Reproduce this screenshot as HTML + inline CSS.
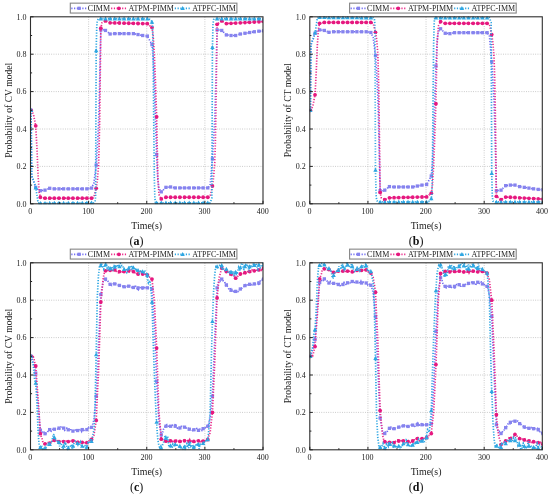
<!DOCTYPE html>
<html><head><meta charset="utf-8"><title>Model probabilities</title>
<style>
html,body{margin:0;padding:0;background:#fff;}
svg{display:block;}
text{font-family:"Liberation Serif","Times New Roman",serif;fill:#222;}
.tl{font-size:8px;}
.al{font-size:9.6px;}
.al2{font-size:9.85px;}
.lg{font-size:8px;}
.cap{font-size:12px;fill:#111;}
.gr{stroke:#b8b8b8;stroke-width:0.8;stroke-dasharray:0.9 1.4;}
.tk{stroke:#222;stroke-width:1;}
.dl{stroke-width:1.7;stroke-dasharray:1.2 1.55;}
</style></head><body>
<svg width="550" height="496" viewBox="0 0 550 496">
<rect width="550" height="496" fill="#fff"/>
<g>
<line x1="88.62" y1="16.8" x2="88.62" y2="203.8" class="gr"/>
<line x1="146.75" y1="16.8" x2="146.75" y2="203.8" class="gr"/>
<line x1="204.88" y1="16.8" x2="204.88" y2="203.8" class="gr"/>
<line x1="30.5" y1="166.40" x2="263.0" y2="166.40" class="gr"/>
<line x1="30.5" y1="129.00" x2="263.0" y2="129.00" class="gr"/>
<line x1="30.5" y1="91.60" x2="263.0" y2="91.60" class="gr"/>
<line x1="30.5" y1="54.20" x2="263.0" y2="54.20" class="gr"/>
<clipPath id="cla"><rect x="30.5" y="16.3" width="232.5" height="188.0"/></clipPath>
<g clip-path="url(#cla)">
<polyline points="31.08,110.30 31.66,175.38 32.24,177.25 32.83,178.80 33.41,180.36 33.99,181.92 34.57,183.73 35.15,185.54 35.73,187.34 36.31,187.95 36.89,188.56 37.48,189.17 38.06,189.78 38.64,190.01 39.22,190.24 39.80,190.48 40.38,190.71 40.96,190.64 41.54,190.57 42.12,190.50 42.71,190.43 43.29,190.36 43.87,190.29 44.45,190.22 45.03,190.15 45.61,189.92 46.19,189.68 46.78,189.45 47.36,189.21 47.94,188.98 48.52,188.75 49.10,188.51 49.68,188.28 50.26,188.35 50.84,188.42 51.42,188.49 52.01,188.56 52.59,188.63 53.17,188.70 53.75,188.77 54.33,188.84 54.91,188.84 55.49,188.84 56.08,188.84 56.66,188.84 57.24,188.84 57.82,188.84 58.40,188.84 58.98,188.84 59.56,188.84 60.14,188.84 60.73,188.84 61.31,188.84 61.89,188.84 62.47,188.84 63.05,188.84 63.63,188.84 64.21,188.84 64.79,188.84 65.38,188.84 65.96,188.84 66.54,188.84 67.12,188.84 67.70,188.84 68.28,188.84 68.86,188.84 69.44,188.84 70.03,188.84 70.61,188.84 71.19,188.84 71.77,188.84 72.35,188.84 72.93,188.84 73.51,188.84 74.09,188.84 74.68,188.84 75.26,188.84 75.84,188.84 76.42,188.84 77.00,188.84 77.58,188.84 78.16,188.84 78.74,188.84 79.33,188.84 79.91,188.84 80.49,188.84 81.07,188.84 81.65,188.84 82.23,188.84 82.81,188.84 83.39,188.84 83.97,188.84 84.56,188.84 85.14,188.84 85.72,188.84 86.30,188.84 86.88,188.84 87.46,188.75 88.04,188.65 88.62,188.56 89.21,188.47 89.79,188.37 90.37,188.28 90.95,188.19 91.53,188.09 92.11,186.88 92.69,185.66 93.28,184.45 93.86,183.23 94.44,178.70 95.02,174.16 95.60,169.63 96.18,165.09 96.76,156.40 97.34,147.70 97.93,136.48 98.51,125.26 99.09,106.56 99.67,82.25 100.25,54.20 100.83,29.89 101.41,29.42 101.99,28.96 102.58,29.20 103.16,29.45 103.74,29.70 104.32,29.95 104.90,30.20 105.48,30.45 106.06,30.90 106.64,31.34 107.23,31.78 107.81,32.23 108.39,32.67 108.97,33.12 109.55,33.56 110.13,34.00 110.71,33.96 111.29,33.91 111.88,33.86 112.46,33.82 113.04,33.77 113.62,33.72 114.20,33.68 114.78,33.63 115.36,33.63 115.94,33.63 116.53,33.63 117.11,33.63 117.69,33.63 118.27,33.63 118.85,33.63 119.43,33.63 120.01,33.63 120.59,33.63 121.18,33.63 121.76,33.63 122.34,33.63 122.92,33.63 123.50,33.63 124.08,33.63 124.66,33.63 125.24,33.63 125.83,33.63 126.41,33.63 126.99,33.63 127.57,33.63 128.15,33.63 128.73,33.63 129.31,33.63 129.89,33.63 130.48,33.63 131.06,33.63 131.64,33.63 132.22,33.63 132.80,33.63 133.38,33.63 133.96,33.75 134.54,33.86 135.12,33.98 135.71,34.10 136.29,34.21 136.87,34.33 137.45,34.45 138.03,34.56 138.61,34.68 139.19,34.80 139.78,34.92 140.36,35.03 140.94,35.15 141.52,35.27 142.10,35.38 142.68,35.50 143.26,35.57 143.84,35.64 144.43,35.71 145.01,35.78 145.59,35.85 146.17,35.92 146.75,35.99 147.33,36.06 147.91,37.14 148.49,38.21 149.07,39.29 149.66,40.36 150.24,41.44 150.82,42.51 151.40,43.59 151.98,44.66 152.56,51.30 153.14,57.94 153.73,70.09 154.31,82.25 154.89,100.95 155.47,119.65 156.05,137.13 156.63,154.62 157.21,167.05 157.79,179.49 158.38,184.17 158.96,188.84 159.54,189.59 160.12,190.34 160.70,191.08 161.28,191.83 161.86,191.27 162.44,190.71 163.03,190.15 163.61,189.59 164.19,189.03 164.77,188.47 165.35,187.91 165.93,187.34 166.51,187.30 167.09,187.25 167.68,187.20 168.26,187.16 168.84,187.11 169.42,187.06 170.00,187.02 170.58,186.97 171.16,187.09 171.74,187.20 172.33,187.32 172.91,187.44 173.49,187.55 174.07,187.67 174.65,187.79 175.23,187.91 175.81,187.91 176.39,187.91 176.98,187.91 177.56,187.91 178.14,187.91 178.72,187.91 179.30,187.91 179.88,187.91 180.46,187.91 181.04,187.91 181.62,187.91 182.21,187.91 182.79,187.91 183.37,187.91 183.95,187.91 184.53,187.91 185.11,187.91 185.69,187.91 186.28,187.91 186.86,187.91 187.44,187.91 188.02,187.91 188.60,187.91 189.18,187.91 189.76,187.91 190.34,187.91 190.93,187.91 191.51,187.91 192.09,187.91 192.67,187.91 193.25,187.91 193.83,187.91 194.41,187.91 194.99,187.91 195.58,187.91 196.16,187.91 196.74,187.91 197.32,187.91 197.90,187.91 198.48,187.91 199.06,187.91 199.64,187.91 200.23,187.91 200.81,187.91 201.39,187.91 201.97,187.91 202.55,187.91 203.13,187.91 203.71,187.91 204.29,187.91 204.88,187.91 205.46,187.91 206.04,187.91 206.62,187.91 207.20,187.91 207.78,187.91 208.36,187.20 208.94,186.50 209.53,185.80 210.11,185.10 210.69,178.56 211.27,172.01 211.85,165.47 212.43,158.92 213.01,149.10 213.59,139.29 214.18,129.47 214.76,119.65 215.34,100.02 215.92,80.38 216.50,55.13 217.08,29.89 217.66,29.96 218.24,30.03 218.83,30.10 219.41,30.17 219.99,30.24 220.57,30.31 221.15,30.38 221.73,30.45 222.31,31.01 222.89,31.57 223.48,32.13 224.06,32.69 224.64,33.26 225.22,33.82 225.80,34.38 226.38,34.94 226.96,35.01 227.54,35.08 228.13,35.15 228.71,35.22 229.29,35.29 229.87,35.36 230.45,35.43 231.03,35.50 231.61,35.50 232.19,35.50 232.78,35.50 233.36,35.50 233.94,35.50 234.52,35.50 235.10,35.50 235.68,35.50 236.26,35.31 236.84,35.13 237.43,34.94 238.01,34.75 238.59,34.56 239.17,34.38 239.75,34.19 240.33,34.00 240.91,33.91 241.49,33.82 242.08,33.72 242.66,33.63 243.24,33.54 243.82,33.44 244.40,33.35 244.98,33.26 245.56,33.16 246.14,33.07 246.73,32.98 247.31,32.88 247.89,32.79 248.47,32.69 249.05,32.60 249.63,32.51 250.21,32.41 250.79,32.32 251.38,32.23 251.96,32.13 252.54,32.04 253.12,31.95 253.70,31.85 254.28,31.76 254.86,31.69 255.44,31.62 256.02,31.55 256.61,31.48 257.19,31.41 257.77,31.34 258.35,31.27 258.93,31.20 259.51,31.15 260.09,31.11 260.68,31.06 261.26,31.01 261.84,30.97 262.42,30.92 263.00,30.87 263.58,30.83" fill="none" stroke="#6f6cf2" class="dl"/>
<rect x="29.43" y="108.65" width="3.3" height="3.3" fill="#8683ee"/>
<rect x="34.08" y="185.69" width="3.3" height="3.3" fill="#8683ee"/>
<rect x="38.73" y="189.06" width="3.3" height="3.3" fill="#8683ee"/>
<rect x="43.38" y="188.50" width="3.3" height="3.3" fill="#8683ee"/>
<rect x="48.03" y="186.63" width="3.3" height="3.3" fill="#8683ee"/>
<rect x="52.68" y="187.19" width="3.3" height="3.3" fill="#8683ee"/>
<rect x="57.33" y="187.19" width="3.3" height="3.3" fill="#8683ee"/>
<rect x="61.98" y="187.19" width="3.3" height="3.3" fill="#8683ee"/>
<rect x="66.63" y="187.19" width="3.3" height="3.3" fill="#8683ee"/>
<rect x="71.28" y="187.19" width="3.3" height="3.3" fill="#8683ee"/>
<rect x="75.93" y="187.19" width="3.3" height="3.3" fill="#8683ee"/>
<rect x="80.58" y="187.19" width="3.3" height="3.3" fill="#8683ee"/>
<rect x="85.23" y="187.19" width="3.3" height="3.3" fill="#8683ee"/>
<rect x="89.88" y="186.44" width="3.3" height="3.3" fill="#8683ee"/>
<rect x="94.53" y="163.44" width="3.3" height="3.3" fill="#8683ee"/>
<rect x="99.18" y="28.24" width="3.3" height="3.3" fill="#8683ee"/>
<rect x="103.83" y="28.80" width="3.3" height="3.3" fill="#8683ee"/>
<rect x="108.48" y="32.35" width="3.3" height="3.3" fill="#8683ee"/>
<rect x="113.13" y="31.98" width="3.3" height="3.3" fill="#8683ee"/>
<rect x="117.78" y="31.98" width="3.3" height="3.3" fill="#8683ee"/>
<rect x="122.43" y="31.98" width="3.3" height="3.3" fill="#8683ee"/>
<rect x="127.08" y="31.98" width="3.3" height="3.3" fill="#8683ee"/>
<rect x="131.73" y="31.98" width="3.3" height="3.3" fill="#8683ee"/>
<rect x="136.38" y="32.91" width="3.3" height="3.3" fill="#8683ee"/>
<rect x="141.03" y="33.85" width="3.3" height="3.3" fill="#8683ee"/>
<rect x="145.68" y="34.41" width="3.3" height="3.3" fill="#8683ee"/>
<rect x="150.33" y="43.01" width="3.3" height="3.3" fill="#8683ee"/>
<rect x="154.98" y="152.97" width="3.3" height="3.3" fill="#8683ee"/>
<rect x="159.63" y="190.18" width="3.3" height="3.3" fill="#8683ee"/>
<rect x="164.28" y="185.69" width="3.3" height="3.3" fill="#8683ee"/>
<rect x="168.93" y="185.32" width="3.3" height="3.3" fill="#8683ee"/>
<rect x="173.58" y="186.25" width="3.3" height="3.3" fill="#8683ee"/>
<rect x="178.23" y="186.25" width="3.3" height="3.3" fill="#8683ee"/>
<rect x="182.88" y="186.25" width="3.3" height="3.3" fill="#8683ee"/>
<rect x="187.53" y="186.25" width="3.3" height="3.3" fill="#8683ee"/>
<rect x="192.18" y="186.25" width="3.3" height="3.3" fill="#8683ee"/>
<rect x="196.83" y="186.25" width="3.3" height="3.3" fill="#8683ee"/>
<rect x="201.48" y="186.25" width="3.3" height="3.3" fill="#8683ee"/>
<rect x="206.13" y="186.25" width="3.3" height="3.3" fill="#8683ee"/>
<rect x="210.78" y="157.27" width="3.3" height="3.3" fill="#8683ee"/>
<rect x="215.43" y="28.24" width="3.3" height="3.3" fill="#8683ee"/>
<rect x="220.08" y="28.80" width="3.3" height="3.3" fill="#8683ee"/>
<rect x="224.73" y="33.29" width="3.3" height="3.3" fill="#8683ee"/>
<rect x="229.38" y="33.85" width="3.3" height="3.3" fill="#8683ee"/>
<rect x="234.03" y="33.85" width="3.3" height="3.3" fill="#8683ee"/>
<rect x="238.68" y="32.35" width="3.3" height="3.3" fill="#8683ee"/>
<rect x="243.33" y="31.61" width="3.3" height="3.3" fill="#8683ee"/>
<rect x="247.98" y="30.86" width="3.3" height="3.3" fill="#8683ee"/>
<rect x="252.63" y="30.11" width="3.3" height="3.3" fill="#8683ee"/>
<rect x="257.28" y="29.55" width="3.3" height="3.3" fill="#8683ee"/>
<rect x="261.93" y="29.18" width="3.3" height="3.3" fill="#8683ee"/>
<polyline points="31.08,110.30 31.66,111.24 32.24,112.17 32.83,113.11 33.41,114.04 33.99,116.99 34.57,119.93 35.15,122.88 35.73,125.82 36.31,136.76 36.89,147.70 37.48,161.73 38.06,175.75 38.64,184.17 39.22,192.58 39.80,194.92 40.38,197.26 40.96,197.37 41.54,197.49 42.12,197.61 42.71,197.72 43.29,197.84 43.87,197.96 44.45,198.07 45.03,198.19 45.61,198.19 46.19,198.19 46.78,198.19 47.36,198.19 47.94,198.19 48.52,198.19 49.10,198.19 49.68,198.19 50.26,198.19 50.84,198.19 51.42,198.19 52.01,198.19 52.59,198.19 53.17,198.19 53.75,198.19 54.33,198.19 54.91,198.19 55.49,198.19 56.08,198.19 56.66,198.19 57.24,198.19 57.82,198.19 58.40,198.19 58.98,198.19 59.56,198.19 60.14,198.19 60.73,198.19 61.31,198.19 61.89,198.19 62.47,198.19 63.05,198.19 63.63,198.19 64.21,198.19 64.79,198.19 65.38,198.19 65.96,198.19 66.54,198.19 67.12,198.19 67.70,198.19 68.28,198.19 68.86,198.19 69.44,198.19 70.03,198.19 70.61,198.19 71.19,198.19 71.77,198.19 72.35,198.19 72.93,198.19 73.51,198.19 74.09,198.19 74.68,198.19 75.26,198.19 75.84,198.19 76.42,198.19 77.00,198.19 77.58,198.19 78.16,198.19 78.74,198.19 79.33,198.19 79.91,198.19 80.49,198.19 81.07,198.19 81.65,198.19 82.23,198.19 82.81,198.19 83.39,198.19 83.97,198.19 84.56,198.19 85.14,198.19 85.72,198.19 86.30,198.19 86.88,198.19 87.46,198.19 88.04,198.19 88.62,198.19 89.21,198.19 89.79,198.19 90.37,198.19 90.95,198.19 91.53,198.19 92.11,197.96 92.69,197.72 93.28,197.49 93.86,197.26 94.44,195.01 95.02,192.77 95.60,190.52 96.18,188.28 96.76,184.82 97.34,181.36 97.93,173.88 98.51,166.40 99.09,147.70 99.67,119.65 100.25,72.90 100.83,28.21 101.41,25.50 101.99,22.78 102.58,22.47 103.16,22.16 103.74,21.85 104.32,21.54 104.90,21.23 105.48,20.91 106.06,21.15 106.64,21.38 107.23,21.62 107.81,21.85 108.39,22.08 108.97,22.32 109.55,22.55 110.13,22.78 110.71,22.80 111.29,22.81 111.88,22.83 112.46,22.84 113.04,22.86 113.62,22.87 114.20,22.89 114.78,22.90 115.36,22.92 115.94,22.93 116.53,22.94 117.11,22.96 117.69,22.97 118.27,22.99 118.85,23.00 119.43,23.02 120.01,23.03 120.59,23.05 121.18,23.06 121.76,23.08 122.34,23.09 122.92,23.11 123.50,23.12 124.08,23.13 124.66,23.15 125.24,23.16 125.83,23.18 126.41,23.19 126.99,23.21 127.57,23.22 128.15,23.24 128.73,23.25 129.31,23.27 129.89,23.28 130.48,23.30 131.06,23.31 131.64,23.32 132.22,23.34 132.80,23.35 133.38,23.37 133.96,23.38 134.54,23.40 135.12,23.41 135.71,23.43 136.29,23.44 136.87,23.46 137.45,23.47 138.03,23.49 138.61,23.50 139.19,23.51 139.78,23.53 140.36,23.54 140.94,23.56 141.52,23.57 142.10,23.59 142.68,23.60 143.26,23.62 143.84,23.63 144.43,23.65 145.01,23.66 145.59,23.68 146.17,23.69 146.75,23.70 147.33,23.72 147.91,24.19 148.49,24.65 149.07,25.12 149.66,25.59 150.24,26.06 150.82,26.52 151.40,26.99 151.98,27.46 152.56,31.20 153.14,35.50 153.73,44.85 154.31,54.20 154.89,68.22 155.47,82.25 156.05,99.55 156.63,116.85 157.21,147.70 157.79,175.75 158.38,185.10 158.96,194.45 159.54,195.57 160.12,196.69 160.70,197.82 161.28,198.94 161.86,198.73 162.44,198.52 163.03,198.31 163.61,198.10 164.19,197.89 164.77,197.68 165.35,197.47 165.93,197.26 166.51,197.26 167.09,197.26 167.68,197.26 168.26,197.26 168.84,197.26 169.42,197.26 170.00,197.26 170.58,197.26 171.16,197.26 171.74,197.26 172.33,197.26 172.91,197.26 173.49,197.26 174.07,197.26 174.65,197.26 175.23,197.26 175.81,197.26 176.39,197.26 176.98,197.26 177.56,197.26 178.14,197.26 178.72,197.26 179.30,197.26 179.88,197.26 180.46,197.26 181.04,197.26 181.62,197.26 182.21,197.26 182.79,197.26 183.37,197.26 183.95,197.26 184.53,197.26 185.11,197.26 185.69,197.26 186.28,197.26 186.86,197.26 187.44,197.26 188.02,197.26 188.60,197.26 189.18,197.26 189.76,197.26 190.34,197.26 190.93,197.26 191.51,197.26 192.09,197.26 192.67,197.26 193.25,197.26 193.83,197.26 194.41,197.26 194.99,197.26 195.58,197.26 196.16,197.26 196.74,197.26 197.32,197.26 197.90,197.26 198.48,197.26 199.06,197.26 199.64,197.26 200.23,197.26 200.81,197.26 201.39,197.26 201.97,197.26 202.55,197.26 203.13,197.26 203.71,197.26 204.29,197.26 204.88,197.26 205.46,197.26 206.04,197.26 206.62,197.26 207.20,197.26 207.78,197.26 208.36,197.02 208.94,196.79 209.53,196.55 210.11,196.32 210.69,193.75 211.27,191.18 211.85,188.61 212.43,186.04 213.01,181.83 213.59,177.62 214.18,170.14 214.76,162.66 215.34,143.96 215.92,115.91 216.50,69.16 217.08,24.28 217.66,23.86 218.24,23.44 218.83,23.02 219.41,22.60 219.99,22.18 220.57,21.76 221.15,21.33 221.73,20.91 222.31,21.24 222.89,21.57 223.48,21.90 224.06,22.22 224.64,22.55 225.22,22.88 225.80,23.20 226.38,23.53 226.96,23.51 227.54,23.49 228.13,23.46 228.71,23.44 229.29,23.42 229.87,23.39 230.45,23.37 231.03,23.35 231.61,23.31 232.19,23.28 232.78,23.24 233.36,23.21 233.94,23.18 234.52,23.14 235.10,23.11 235.68,23.08 236.26,23.04 236.84,23.01 237.43,22.98 238.01,22.94 238.59,22.91 239.17,22.88 239.75,22.84 240.33,22.81 240.91,22.78 241.49,22.74 242.08,22.71 242.66,22.68 243.24,22.64 243.82,22.61 244.40,22.58 244.98,22.54 245.56,22.51 246.14,22.48 246.73,22.44 247.31,22.41 247.89,22.38 248.47,22.34 249.05,22.31 249.63,22.28 250.21,22.24 250.79,22.21 251.38,22.18 251.96,22.14 252.54,22.11 253.12,22.08 253.70,22.04 254.28,22.01 254.86,21.98 255.44,21.94 256.02,21.91 256.61,21.88 257.19,21.84 257.77,21.81 258.35,21.78 258.93,21.74 259.51,21.71 260.09,21.68 260.68,21.64 261.26,21.61 261.84,21.58 262.42,21.54 263.00,21.51 263.58,21.48" fill="none" stroke="#ea2a8a" class="dl"/>
<circle cx="31.08" cy="110.30" r="1.9" fill="#e6187f"/>
<circle cx="35.73" cy="125.82" r="1.9" fill="#e6187f"/>
<circle cx="40.38" cy="197.26" r="1.9" fill="#e6187f"/>
<circle cx="45.03" cy="198.19" r="1.9" fill="#e6187f"/>
<circle cx="49.68" cy="198.19" r="1.9" fill="#e6187f"/>
<circle cx="54.33" cy="198.19" r="1.9" fill="#e6187f"/>
<circle cx="58.98" cy="198.19" r="1.9" fill="#e6187f"/>
<circle cx="63.63" cy="198.19" r="1.9" fill="#e6187f"/>
<circle cx="68.28" cy="198.19" r="1.9" fill="#e6187f"/>
<circle cx="72.93" cy="198.19" r="1.9" fill="#e6187f"/>
<circle cx="77.58" cy="198.19" r="1.9" fill="#e6187f"/>
<circle cx="82.23" cy="198.19" r="1.9" fill="#e6187f"/>
<circle cx="86.88" cy="198.19" r="1.9" fill="#e6187f"/>
<circle cx="91.53" cy="198.19" r="1.9" fill="#e6187f"/>
<circle cx="96.18" cy="188.28" r="1.9" fill="#e6187f"/>
<circle cx="100.83" cy="28.21" r="1.9" fill="#e6187f"/>
<circle cx="105.48" cy="20.91" r="1.9" fill="#e6187f"/>
<circle cx="110.13" cy="22.78" r="1.9" fill="#e6187f"/>
<circle cx="114.78" cy="22.90" r="1.9" fill="#e6187f"/>
<circle cx="119.43" cy="23.02" r="1.9" fill="#e6187f"/>
<circle cx="124.08" cy="23.13" r="1.9" fill="#e6187f"/>
<circle cx="128.73" cy="23.25" r="1.9" fill="#e6187f"/>
<circle cx="133.38" cy="23.37" r="1.9" fill="#e6187f"/>
<circle cx="138.03" cy="23.49" r="1.9" fill="#e6187f"/>
<circle cx="142.68" cy="23.60" r="1.9" fill="#e6187f"/>
<circle cx="147.33" cy="23.72" r="1.9" fill="#e6187f"/>
<circle cx="151.98" cy="27.46" r="1.9" fill="#e6187f"/>
<circle cx="156.63" cy="116.85" r="1.9" fill="#e6187f"/>
<circle cx="161.28" cy="198.94" r="1.9" fill="#e6187f"/>
<circle cx="165.93" cy="197.26" r="1.9" fill="#e6187f"/>
<circle cx="170.58" cy="197.26" r="1.9" fill="#e6187f"/>
<circle cx="175.23" cy="197.26" r="1.9" fill="#e6187f"/>
<circle cx="179.88" cy="197.26" r="1.9" fill="#e6187f"/>
<circle cx="184.53" cy="197.26" r="1.9" fill="#e6187f"/>
<circle cx="189.18" cy="197.26" r="1.9" fill="#e6187f"/>
<circle cx="193.83" cy="197.26" r="1.9" fill="#e6187f"/>
<circle cx="198.48" cy="197.26" r="1.9" fill="#e6187f"/>
<circle cx="203.13" cy="197.26" r="1.9" fill="#e6187f"/>
<circle cx="207.78" cy="197.26" r="1.9" fill="#e6187f"/>
<circle cx="212.43" cy="186.04" r="1.9" fill="#e6187f"/>
<circle cx="217.08" cy="24.28" r="1.9" fill="#e6187f"/>
<circle cx="221.73" cy="20.91" r="1.9" fill="#e6187f"/>
<circle cx="226.38" cy="23.53" r="1.9" fill="#e6187f"/>
<circle cx="231.03" cy="23.35" r="1.9" fill="#e6187f"/>
<circle cx="235.68" cy="23.08" r="1.9" fill="#e6187f"/>
<circle cx="240.33" cy="22.81" r="1.9" fill="#e6187f"/>
<circle cx="244.98" cy="22.54" r="1.9" fill="#e6187f"/>
<circle cx="249.63" cy="22.28" r="1.9" fill="#e6187f"/>
<circle cx="254.28" cy="22.01" r="1.9" fill="#e6187f"/>
<circle cx="258.93" cy="21.74" r="1.9" fill="#e6187f"/>
<circle cx="263.58" cy="21.48" r="1.9" fill="#e6187f"/>
<polyline points="31.08,110.30 31.66,175.75 32.24,177.62 32.83,179.18 33.41,180.74 33.99,182.30 34.57,184.10 35.15,185.91 35.73,187.72 36.31,191.08 36.89,194.45 37.48,198.66 38.06,202.87 38.64,202.96 39.22,203.05 39.80,203.15 40.38,203.24 40.96,203.23 41.54,203.23 42.12,203.23 42.71,203.22 43.29,203.22 43.87,203.21 44.45,203.21 45.03,203.21 45.61,203.20 46.19,203.20 46.78,203.19 47.36,203.19 47.94,203.19 48.52,203.18 49.10,203.18 49.68,203.17 50.26,203.17 50.84,203.17 51.42,203.16 52.01,203.16 52.59,203.15 53.17,203.15 53.75,203.15 54.33,203.14 54.91,203.14 55.49,203.13 56.08,203.13 56.66,203.13 57.24,203.12 57.82,203.12 58.40,203.11 58.98,203.11 59.56,203.10 60.14,203.10 60.73,203.10 61.31,203.09 61.89,203.09 62.47,203.08 63.05,203.08 63.63,203.08 64.21,203.07 64.79,203.07 65.38,203.06 65.96,203.06 66.54,203.06 67.12,203.05 67.70,203.05 68.28,203.04 68.86,203.04 69.44,203.04 70.03,203.03 70.61,203.03 71.19,203.02 71.77,203.02 72.35,203.02 72.93,203.01 73.51,203.01 74.09,203.00 74.68,203.00 75.26,203.00 75.84,202.99 76.42,202.99 77.00,202.98 77.58,202.98 78.16,202.97 78.74,202.97 79.33,202.97 79.91,202.96 80.49,202.96 81.07,202.95 81.65,202.95 82.23,202.95 82.81,202.94 83.39,202.94 83.97,202.93 84.56,202.93 85.14,202.93 85.72,202.92 86.30,202.92 86.88,202.91 87.46,202.91 88.04,202.91 88.62,202.90 89.21,202.90 89.79,202.89 90.37,202.89 90.95,202.89 91.53,202.88 92.11,202.88 92.69,202.87 93.28,202.87 93.86,202.87 94.44,202.40 95.02,201.93 95.60,196.32 96.18,50.46 96.76,26.15 97.34,20.54 97.93,19.61 98.51,18.67 99.09,18.67 99.67,18.67 100.25,18.67 100.83,18.67 101.41,18.67 101.99,18.67 102.58,18.67 103.16,18.67 103.74,18.67 104.32,18.67 104.90,18.67 105.48,18.67 106.06,18.67 106.64,18.67 107.23,18.67 107.81,18.67 108.39,18.67 108.97,18.67 109.55,18.67 110.13,18.67 110.71,18.67 111.29,18.67 111.88,18.67 112.46,18.67 113.04,18.67 113.62,18.67 114.20,18.67 114.78,18.67 115.36,18.67 115.94,18.67 116.53,18.67 117.11,18.67 117.69,18.67 118.27,18.67 118.85,18.67 119.43,18.67 120.01,18.67 120.59,18.67 121.18,18.67 121.76,18.67 122.34,18.67 122.92,18.67 123.50,18.67 124.08,18.67 124.66,18.67 125.24,18.67 125.83,18.67 126.41,18.67 126.99,18.67 127.57,18.67 128.15,18.67 128.73,18.67 129.31,18.67 129.89,18.67 130.48,18.67 131.06,18.67 131.64,18.67 132.22,18.67 132.80,18.67 133.38,18.67 133.96,18.67 134.54,18.67 135.12,18.67 135.71,18.67 136.29,18.67 136.87,18.67 137.45,18.67 138.03,18.67 138.61,18.67 139.19,18.67 139.78,18.67 140.36,18.67 140.94,18.67 141.52,18.67 142.10,18.67 142.68,18.67 143.26,18.67 143.84,18.67 144.43,18.67 145.01,18.67 145.59,18.67 146.17,18.67 146.75,18.67 147.33,18.67 147.91,18.83 148.49,18.98 149.07,19.14 149.66,19.29 150.24,19.45 150.82,19.61 151.40,20.82 151.98,22.04 152.56,26.15 153.14,54.20 153.73,119.65 154.31,175.75 154.89,198.19 155.47,202.87 156.05,202.87 156.63,202.87 157.21,202.87 157.79,202.87 158.38,202.87 158.96,202.87 159.54,202.87 160.12,202.87 160.70,202.87 161.28,202.87 161.86,202.87 162.44,202.87 163.03,202.87 163.61,202.87 164.19,202.87 164.77,202.87 165.35,202.87 165.93,202.87 166.51,202.87 167.09,202.87 167.68,202.87 168.26,202.87 168.84,202.87 169.42,202.87 170.00,202.87 170.58,202.87 171.16,202.87 171.74,202.87 172.33,202.87 172.91,202.87 173.49,202.87 174.07,202.87 174.65,202.87 175.23,202.87 175.81,202.87 176.39,202.87 176.98,202.87 177.56,202.87 178.14,202.87 178.72,202.87 179.30,202.87 179.88,202.87 180.46,202.87 181.04,202.87 181.62,202.87 182.21,202.87 182.79,202.87 183.37,202.87 183.95,202.87 184.53,202.87 185.11,202.87 185.69,202.87 186.28,202.87 186.86,202.87 187.44,202.87 188.02,202.87 188.60,202.87 189.18,202.87 189.76,202.87 190.34,202.87 190.93,202.87 191.51,202.87 192.09,202.87 192.67,202.87 193.25,202.87 193.83,202.87 194.41,202.87 194.99,202.87 195.58,202.87 196.16,202.87 196.74,202.87 197.32,202.87 197.90,202.87 198.48,202.87 199.06,202.87 199.64,202.87 200.23,202.87 200.81,202.87 201.39,202.87 201.97,202.87 202.55,202.87 203.13,202.87 203.71,202.87 204.29,202.87 204.88,202.87 205.46,202.87 206.04,202.87 206.62,202.87 207.20,202.87 207.78,202.87 208.36,202.87 208.94,202.87 209.53,202.87 210.11,202.87 210.69,201.31 211.27,199.75 211.85,198.19 212.43,47.28 213.01,24.28 213.59,19.61 214.18,19.14 214.76,18.67 215.34,18.67 215.92,18.67 216.50,18.67 217.08,18.67 217.66,18.67 218.24,18.67 218.83,18.67 219.41,18.67 219.99,18.67 220.57,18.67 221.15,18.67 221.73,18.67 222.31,18.67 222.89,18.67 223.48,18.67 224.06,18.67 224.64,18.67 225.22,18.67 225.80,18.67 226.38,18.67 226.96,18.67 227.54,18.67 228.13,18.67 228.71,18.67 229.29,18.67 229.87,18.67 230.45,18.67 231.03,18.67 231.61,18.67 232.19,18.67 232.78,18.67 233.36,18.67 233.94,18.67 234.52,18.67 235.10,18.67 235.68,18.67 236.26,18.67 236.84,18.67 237.43,18.67 238.01,18.67 238.59,18.67 239.17,18.67 239.75,18.67 240.33,18.67 240.91,18.67 241.49,18.67 242.08,18.67 242.66,18.67 243.24,18.67 243.82,18.67 244.40,18.67 244.98,18.67 245.56,18.67 246.14,18.67 246.73,18.67 247.31,18.67 247.89,18.67 248.47,18.67 249.05,18.67 249.63,18.67 250.21,18.67 250.79,18.67 251.38,18.67 251.96,18.67 252.54,18.67 253.12,18.67 253.70,18.67 254.28,18.67 254.86,18.67 255.44,18.67 256.02,18.67 256.61,18.67 257.19,18.67 257.77,18.67 258.35,18.67 258.93,18.67 259.51,18.67 260.09,18.67 260.68,18.67 261.26,18.67 261.84,18.67 262.42,18.67 263.00,18.67 263.58,18.67" fill="none" stroke="#2ea6e2" class="dl"/>
<path d="M31.08 108.00L33.27 112.03L28.90 112.03Z" fill="#2ea6e2"/>
<path d="M35.73 185.42L37.92 189.44L33.55 189.44Z" fill="#2ea6e2"/>
<path d="M40.38 200.94L42.57 204.96L38.20 204.96Z" fill="#2ea6e2"/>
<path d="M45.03 200.91L47.22 204.93L42.85 204.93Z" fill="#2ea6e2"/>
<path d="M49.68 200.87L51.87 204.90L47.50 204.90Z" fill="#2ea6e2"/>
<path d="M54.33 200.84L56.52 204.87L52.15 204.87Z" fill="#2ea6e2"/>
<path d="M58.98 200.81L61.17 204.83L56.80 204.83Z" fill="#2ea6e2"/>
<path d="M63.63 200.78L65.82 204.80L61.45 204.80Z" fill="#2ea6e2"/>
<path d="M68.28 200.74L70.47 204.77L66.10 204.77Z" fill="#2ea6e2"/>
<path d="M72.93 200.71L75.12 204.74L70.75 204.74Z" fill="#2ea6e2"/>
<path d="M77.58 200.68L79.77 204.70L75.40 204.70Z" fill="#2ea6e2"/>
<path d="M82.23 200.65L84.42 204.67L80.05 204.67Z" fill="#2ea6e2"/>
<path d="M86.88 200.61L89.07 204.64L84.70 204.64Z" fill="#2ea6e2"/>
<path d="M91.53 200.58L93.72 204.61L89.35 204.61Z" fill="#2ea6e2"/>
<path d="M96.18 48.16L98.37 52.19L94.00 52.19Z" fill="#2ea6e2"/>
<path d="M100.83 16.37L103.02 20.40L98.65 20.40Z" fill="#2ea6e2"/>
<path d="M105.48 16.37L107.67 20.40L103.30 20.40Z" fill="#2ea6e2"/>
<path d="M110.13 16.37L112.32 20.40L107.95 20.40Z" fill="#2ea6e2"/>
<path d="M114.78 16.37L116.97 20.40L112.60 20.40Z" fill="#2ea6e2"/>
<path d="M119.43 16.37L121.62 20.40L117.25 20.40Z" fill="#2ea6e2"/>
<path d="M124.08 16.37L126.27 20.40L121.90 20.40Z" fill="#2ea6e2"/>
<path d="M128.73 16.37L130.92 20.40L126.55 20.40Z" fill="#2ea6e2"/>
<path d="M133.38 16.37L135.57 20.40L131.20 20.40Z" fill="#2ea6e2"/>
<path d="M138.03 16.37L140.22 20.40L135.85 20.40Z" fill="#2ea6e2"/>
<path d="M142.68 16.37L144.87 20.40L140.50 20.40Z" fill="#2ea6e2"/>
<path d="M147.33 16.37L149.52 20.40L145.15 20.40Z" fill="#2ea6e2"/>
<path d="M151.98 19.74L154.17 23.76L149.80 23.76Z" fill="#2ea6e2"/>
<path d="M156.63 200.56L158.82 204.59L154.45 204.59Z" fill="#2ea6e2"/>
<path d="M161.28 200.56L163.47 204.59L159.10 204.59Z" fill="#2ea6e2"/>
<path d="M165.93 200.56L168.12 204.59L163.75 204.59Z" fill="#2ea6e2"/>
<path d="M170.58 200.56L172.77 204.59L168.40 204.59Z" fill="#2ea6e2"/>
<path d="M175.23 200.56L177.42 204.59L173.05 204.59Z" fill="#2ea6e2"/>
<path d="M179.88 200.56L182.07 204.59L177.70 204.59Z" fill="#2ea6e2"/>
<path d="M184.53 200.56L186.72 204.59L182.35 204.59Z" fill="#2ea6e2"/>
<path d="M189.18 200.56L191.37 204.59L187.00 204.59Z" fill="#2ea6e2"/>
<path d="M193.83 200.56L196.02 204.59L191.65 204.59Z" fill="#2ea6e2"/>
<path d="M198.48 200.56L200.67 204.59L196.30 204.59Z" fill="#2ea6e2"/>
<path d="M203.13 200.56L205.32 204.59L200.95 204.59Z" fill="#2ea6e2"/>
<path d="M207.78 200.56L209.97 204.59L205.60 204.59Z" fill="#2ea6e2"/>
<path d="M212.43 44.98L214.62 49.01L210.25 49.01Z" fill="#2ea6e2"/>
<path d="M217.08 16.37L219.27 20.40L214.90 20.40Z" fill="#2ea6e2"/>
<path d="M221.73 16.37L223.92 20.40L219.55 20.40Z" fill="#2ea6e2"/>
<path d="M226.38 16.37L228.57 20.40L224.20 20.40Z" fill="#2ea6e2"/>
<path d="M231.03 16.37L233.22 20.40L228.85 20.40Z" fill="#2ea6e2"/>
<path d="M235.68 16.37L237.87 20.40L233.50 20.40Z" fill="#2ea6e2"/>
<path d="M240.33 16.37L242.52 20.40L238.15 20.40Z" fill="#2ea6e2"/>
<path d="M244.98 16.37L247.17 20.40L242.80 20.40Z" fill="#2ea6e2"/>
<path d="M249.63 16.37L251.82 20.40L247.45 20.40Z" fill="#2ea6e2"/>
<path d="M254.28 16.37L256.47 20.40L252.10 20.40Z" fill="#2ea6e2"/>
<path d="M258.93 16.37L261.12 20.40L256.75 20.40Z" fill="#2ea6e2"/>
<path d="M263.58 16.37L265.77 20.40L261.40 20.40Z" fill="#2ea6e2"/>
</g>
<rect x="30.5" y="16.8" width="232.5" height="187.0" fill="none" stroke="#2e2e2e" stroke-width="1.1"/>
<line x1="30.50" y1="203.8" x2="30.50" y2="200.8" class="tk"/>
<text x="30.20" y="214.25" class="tl" text-anchor="middle">0</text>
<line x1="59.56" y1="203.8" x2="59.56" y2="202.20000000000002" class="tk"/>
<line x1="88.62" y1="203.8" x2="88.62" y2="200.8" class="tk"/>
<text x="88.33" y="214.25" class="tl" text-anchor="middle">100</text>
<line x1="117.69" y1="203.8" x2="117.69" y2="202.20000000000002" class="tk"/>
<line x1="146.75" y1="203.8" x2="146.75" y2="200.8" class="tk"/>
<text x="146.45" y="214.25" class="tl" text-anchor="middle">200</text>
<line x1="175.81" y1="203.8" x2="175.81" y2="202.20000000000002" class="tk"/>
<line x1="204.88" y1="203.8" x2="204.88" y2="200.8" class="tk"/>
<text x="204.57" y="214.25" class="tl" text-anchor="middle">300</text>
<line x1="233.94" y1="203.8" x2="233.94" y2="202.20000000000002" class="tk"/>
<line x1="263.00" y1="203.8" x2="263.00" y2="200.8" class="tk"/>
<text x="262.70" y="214.25" class="tl" text-anchor="middle">400</text>
<line x1="30.5" y1="203.80" x2="33.5" y2="203.80" class="tk"/>
<text x="26.50" y="206.60" class="tl" text-anchor="end">0.0</text>
<line x1="30.5" y1="185.10" x2="32.1" y2="185.10" class="tk"/>
<line x1="30.5" y1="166.40" x2="33.5" y2="166.40" class="tk"/>
<text x="26.50" y="169.20" class="tl" text-anchor="end">0.2</text>
<line x1="30.5" y1="147.70" x2="32.1" y2="147.70" class="tk"/>
<line x1="30.5" y1="129.00" x2="33.5" y2="129.00" class="tk"/>
<text x="26.50" y="131.80" class="tl" text-anchor="end">0.4</text>
<line x1="30.5" y1="110.30" x2="32.1" y2="110.30" class="tk"/>
<line x1="30.5" y1="91.60" x2="33.5" y2="91.60" class="tk"/>
<text x="26.50" y="94.40" class="tl" text-anchor="end">0.6</text>
<line x1="30.5" y1="72.90" x2="32.1" y2="72.90" class="tk"/>
<line x1="30.5" y1="54.20" x2="33.5" y2="54.20" class="tk"/>
<text x="26.50" y="57.00" class="tl" text-anchor="end">0.8</text>
<line x1="30.5" y1="35.50" x2="32.1" y2="35.50" class="tk"/>
<line x1="30.5" y1="16.80" x2="33.5" y2="16.80" class="tk"/>
<text x="26.50" y="19.60" class="tl" text-anchor="end">1.0</text>
<text x="146.75" y="229.10" class="al2" text-anchor="middle">Time(s)</text>
<text transform="translate(11.80,110.30) rotate(-90)" class="al" text-anchor="middle">Probability of CV model</text>
<text x="136.60" y="245.20" class="cap" text-anchor="middle">(<tspan font-weight="bold">a</tspan>)</text>
<rect x="70.3" y="3.15" width="166.6" height="9.9" fill="#fff" stroke="#858585" stroke-width="1.1"/>
<line x1="71.3" y1="8.3" x2="86.89999999999999" y2="8.3" stroke="#6f6cf2" class="dl"/>
<rect x="77.45" y="6.65" width="3.3" height="3.3" fill="#8683ee"/>
<text x="87.8" y="10.9" class="lg">CIMM</text>
<line x1="111.1" y1="8.3" x2="126.69999999999999" y2="8.3" stroke="#ea2a8a" class="dl"/>
<circle cx="118.90" cy="8.30" r="1.9" fill="#e6187f"/>
<text x="128.6" y="10.9" class="lg">ATPM-PIMM</text>
<line x1="174.8" y1="8.3" x2="190.4" y2="8.3" stroke="#2ea6e2" class="dl"/>
<path d="M182.60 6.00L184.79 10.03L180.42 10.03Z" fill="#2ea6e2"/>
<text x="192.3" y="10.9" class="lg">ATPFC-IMM</text>
</g>
<g>
<line x1="367.93" y1="16.8" x2="367.93" y2="203.8" class="gr"/>
<line x1="426.05" y1="16.8" x2="426.05" y2="203.8" class="gr"/>
<line x1="484.18" y1="16.8" x2="484.18" y2="203.8" class="gr"/>
<line x1="309.8" y1="166.40" x2="542.3" y2="166.40" class="gr"/>
<line x1="309.8" y1="129.00" x2="542.3" y2="129.00" class="gr"/>
<line x1="309.8" y1="91.60" x2="542.3" y2="91.60" class="gr"/>
<line x1="309.8" y1="54.20" x2="542.3" y2="54.20" class="gr"/>
<clipPath id="clb"><rect x="309.8" y="16.3" width="232.5" height="188.0"/></clipPath>
<g clip-path="url(#clb)">
<polyline points="310.38,110.30 310.96,45.22 311.54,43.35 312.12,41.80 312.71,40.24 313.29,38.68 313.87,36.87 314.45,35.06 315.03,33.26 315.61,32.65 316.19,32.04 316.78,31.43 317.36,30.83 317.94,30.59 318.52,30.36 319.10,30.12 319.68,29.89 320.26,29.96 320.84,30.03 321.43,30.10 322.01,30.17 322.59,30.24 323.17,30.31 323.75,30.38 324.33,30.45 324.91,30.68 325.49,30.92 326.07,31.15 326.66,31.39 327.24,31.62 327.82,31.85 328.40,32.09 328.98,32.32 329.56,32.25 330.14,32.18 330.73,32.11 331.31,32.04 331.89,31.97 332.47,31.90 333.05,31.83 333.63,31.76 334.21,31.76 334.79,31.76 335.38,31.76 335.96,31.76 336.54,31.76 337.12,31.76 337.70,31.76 338.28,31.76 338.86,31.76 339.44,31.76 340.03,31.76 340.61,31.76 341.19,31.76 341.77,31.76 342.35,31.76 342.93,31.76 343.51,31.76 344.09,31.76 344.68,31.76 345.26,31.76 345.84,31.76 346.42,31.76 347.00,31.76 347.58,31.76 348.16,31.76 348.74,31.76 349.33,31.76 349.91,31.76 350.49,31.76 351.07,31.76 351.65,31.76 352.23,31.76 352.81,31.76 353.39,31.76 353.98,31.76 354.56,31.76 355.14,31.76 355.72,31.76 356.30,31.76 356.88,31.76 357.46,31.76 358.04,31.76 358.62,31.76 359.21,31.76 359.79,31.76 360.37,31.76 360.95,31.76 361.53,31.76 362.11,31.76 362.69,31.76 363.28,31.76 363.86,31.76 364.44,31.76 365.02,31.76 365.60,31.76 366.18,31.76 366.76,31.85 367.34,31.95 367.93,32.04 368.51,32.13 369.09,32.23 369.67,32.32 370.25,32.41 370.83,32.51 371.41,33.72 371.99,34.94 372.58,36.15 373.16,37.37 373.74,41.90 374.32,46.44 374.90,50.97 375.48,55.51 376.06,64.20 376.64,72.90 377.23,84.12 377.81,95.34 378.39,114.04 378.97,138.35 379.55,166.40 380.13,190.71 380.71,191.18 381.29,191.65 381.88,191.40 382.46,191.15 383.04,190.90 383.62,190.65 384.20,190.40 384.78,190.15 385.36,189.70 385.94,189.26 386.53,188.82 387.11,188.37 387.69,187.93 388.27,187.48 388.85,187.04 389.43,186.60 390.01,186.64 390.59,186.69 391.18,186.74 391.76,186.78 392.34,186.83 392.92,186.88 393.50,186.92 394.08,186.97 394.66,186.97 395.24,186.97 395.83,186.97 396.41,186.97 396.99,186.97 397.57,186.97 398.15,186.97 398.73,186.97 399.31,186.97 399.89,186.97 400.48,186.97 401.06,186.97 401.64,186.97 402.22,186.97 402.80,186.97 403.38,186.97 403.96,186.97 404.54,186.97 405.12,186.97 405.71,186.97 406.29,186.97 406.87,186.97 407.45,186.97 408.03,186.97 408.61,186.97 409.19,186.97 409.78,186.97 410.36,186.97 410.94,186.97 411.52,186.97 412.10,186.97 412.68,186.97 413.26,186.85 413.84,186.74 414.43,186.62 415.01,186.50 415.59,186.39 416.17,186.27 416.75,186.15 417.33,186.04 417.91,185.92 418.49,185.80 419.08,185.68 419.66,185.57 420.24,185.45 420.82,185.33 421.40,185.22 421.98,185.10 422.56,185.03 423.14,184.96 423.73,184.89 424.31,184.82 424.89,184.75 425.47,184.68 426.05,184.61 426.63,184.54 427.21,183.46 427.79,182.39 428.38,181.31 428.96,180.24 429.54,179.16 430.12,178.09 430.70,177.01 431.28,175.94 431.86,169.30 432.44,162.66 433.03,150.51 433.61,138.35 434.19,119.65 434.77,100.95 435.35,83.47 435.93,65.98 436.51,53.55 437.09,41.11 437.68,36.44 438.26,31.76 438.84,31.01 439.42,30.26 440.00,29.52 440.58,28.77 441.16,29.33 441.74,29.89 442.33,30.45 442.91,31.01 443.49,31.57 444.07,32.13 444.65,32.69 445.23,33.26 445.81,33.30 446.39,33.35 446.98,33.40 447.56,33.44 448.14,33.49 448.72,33.54 449.30,33.58 449.88,33.63 450.46,33.51 451.04,33.40 451.62,33.28 452.21,33.16 452.79,33.05 453.37,32.93 453.95,32.81 454.53,32.69 455.11,32.69 455.69,32.69 456.28,32.69 456.86,32.69 457.44,32.69 458.02,32.69 458.60,32.69 459.18,32.69 459.76,32.69 460.34,32.69 460.93,32.69 461.51,32.69 462.09,32.69 462.67,32.69 463.25,32.69 463.83,32.69 464.41,32.69 464.99,32.69 465.58,32.69 466.16,32.69 466.74,32.69 467.32,32.69 467.90,32.69 468.48,32.69 469.06,32.69 469.64,32.69 470.23,32.69 470.81,32.69 471.39,32.69 471.97,32.69 472.55,32.69 473.13,32.69 473.71,32.69 474.29,32.69 474.88,32.69 475.46,32.69 476.04,32.69 476.62,32.69 477.20,32.69 477.78,32.69 478.36,32.69 478.94,32.69 479.53,32.69 480.11,32.69 480.69,32.69 481.27,32.69 481.85,32.69 482.43,32.69 483.01,32.69 483.59,32.69 484.18,32.69 484.76,32.69 485.34,32.69 485.92,32.69 486.50,32.69 487.08,32.69 487.66,33.40 488.24,34.10 488.83,34.80 489.41,35.50 489.99,42.05 490.57,48.59 491.15,55.13 491.73,61.68 492.31,71.50 492.89,81.32 493.48,91.13 494.06,100.95 494.64,120.59 495.22,140.22 495.80,165.47 496.38,190.71 496.96,190.64 497.54,190.57 498.12,190.50 498.71,190.43 499.29,190.36 499.87,190.29 500.45,190.22 501.03,190.15 501.61,189.59 502.19,189.03 502.78,188.47 503.36,187.91 503.94,187.34 504.52,186.78 505.10,186.22 505.68,185.66 506.26,185.59 506.84,185.52 507.43,185.45 508.01,185.38 508.59,185.31 509.17,185.24 509.75,185.17 510.33,185.10 510.91,185.10 511.49,185.10 512.08,185.10 512.66,185.10 513.24,185.10 513.82,185.10 514.40,185.10 514.98,185.10 515.56,185.29 516.14,185.47 516.73,185.66 517.31,185.85 517.89,186.04 518.47,186.22 519.05,186.41 519.63,186.60 520.21,186.69 520.79,186.78 521.38,186.88 521.96,186.97 522.54,187.06 523.12,187.16 523.70,187.25 524.28,187.34 524.86,187.44 525.44,187.53 526.03,187.62 526.61,187.72 527.19,187.81 527.77,187.91 528.35,188.00 528.93,188.09 529.51,188.19 530.09,188.28 530.68,188.37 531.26,188.47 531.84,188.56 532.42,188.65 533.00,188.75 533.58,188.84 534.16,188.91 534.74,188.98 535.33,189.05 535.91,189.12 536.49,189.19 537.07,189.26 537.65,189.33 538.23,189.40 538.81,189.45 539.39,189.49 539.98,189.54 540.56,189.59 541.14,189.63 541.72,189.68 542.30,189.73 542.88,189.78" fill="none" stroke="#6f6cf2" class="dl"/>
<rect x="308.73" y="108.65" width="3.3" height="3.3" fill="#8683ee"/>
<rect x="313.38" y="31.61" width="3.3" height="3.3" fill="#8683ee"/>
<rect x="318.03" y="28.24" width="3.3" height="3.3" fill="#8683ee"/>
<rect x="322.68" y="28.80" width="3.3" height="3.3" fill="#8683ee"/>
<rect x="327.33" y="30.67" width="3.3" height="3.3" fill="#8683ee"/>
<rect x="331.98" y="30.11" width="3.3" height="3.3" fill="#8683ee"/>
<rect x="336.63" y="30.11" width="3.3" height="3.3" fill="#8683ee"/>
<rect x="341.28" y="30.11" width="3.3" height="3.3" fill="#8683ee"/>
<rect x="345.93" y="30.11" width="3.3" height="3.3" fill="#8683ee"/>
<rect x="350.58" y="30.11" width="3.3" height="3.3" fill="#8683ee"/>
<rect x="355.23" y="30.11" width="3.3" height="3.3" fill="#8683ee"/>
<rect x="359.88" y="30.11" width="3.3" height="3.3" fill="#8683ee"/>
<rect x="364.53" y="30.11" width="3.3" height="3.3" fill="#8683ee"/>
<rect x="369.18" y="30.86" width="3.3" height="3.3" fill="#8683ee"/>
<rect x="373.83" y="53.86" width="3.3" height="3.3" fill="#8683ee"/>
<rect x="378.48" y="189.06" width="3.3" height="3.3" fill="#8683ee"/>
<rect x="383.13" y="188.50" width="3.3" height="3.3" fill="#8683ee"/>
<rect x="387.78" y="184.95" width="3.3" height="3.3" fill="#8683ee"/>
<rect x="392.43" y="185.32" width="3.3" height="3.3" fill="#8683ee"/>
<rect x="397.08" y="185.32" width="3.3" height="3.3" fill="#8683ee"/>
<rect x="401.73" y="185.32" width="3.3" height="3.3" fill="#8683ee"/>
<rect x="406.38" y="185.32" width="3.3" height="3.3" fill="#8683ee"/>
<rect x="411.03" y="185.32" width="3.3" height="3.3" fill="#8683ee"/>
<rect x="415.68" y="184.39" width="3.3" height="3.3" fill="#8683ee"/>
<rect x="420.33" y="183.45" width="3.3" height="3.3" fill="#8683ee"/>
<rect x="424.98" y="182.89" width="3.3" height="3.3" fill="#8683ee"/>
<rect x="429.63" y="174.29" width="3.3" height="3.3" fill="#8683ee"/>
<rect x="434.28" y="64.33" width="3.3" height="3.3" fill="#8683ee"/>
<rect x="438.93" y="27.12" width="3.3" height="3.3" fill="#8683ee"/>
<rect x="443.58" y="31.61" width="3.3" height="3.3" fill="#8683ee"/>
<rect x="448.23" y="31.98" width="3.3" height="3.3" fill="#8683ee"/>
<rect x="452.88" y="31.04" width="3.3" height="3.3" fill="#8683ee"/>
<rect x="457.53" y="31.04" width="3.3" height="3.3" fill="#8683ee"/>
<rect x="462.18" y="31.04" width="3.3" height="3.3" fill="#8683ee"/>
<rect x="466.83" y="31.04" width="3.3" height="3.3" fill="#8683ee"/>
<rect x="471.48" y="31.04" width="3.3" height="3.3" fill="#8683ee"/>
<rect x="476.13" y="31.04" width="3.3" height="3.3" fill="#8683ee"/>
<rect x="480.78" y="31.04" width="3.3" height="3.3" fill="#8683ee"/>
<rect x="485.43" y="31.04" width="3.3" height="3.3" fill="#8683ee"/>
<rect x="490.08" y="60.03" width="3.3" height="3.3" fill="#8683ee"/>
<rect x="494.73" y="189.06" width="3.3" height="3.3" fill="#8683ee"/>
<rect x="499.38" y="188.50" width="3.3" height="3.3" fill="#8683ee"/>
<rect x="504.03" y="184.01" width="3.3" height="3.3" fill="#8683ee"/>
<rect x="508.68" y="183.45" width="3.3" height="3.3" fill="#8683ee"/>
<rect x="513.33" y="183.45" width="3.3" height="3.3" fill="#8683ee"/>
<rect x="517.98" y="184.95" width="3.3" height="3.3" fill="#8683ee"/>
<rect x="522.63" y="185.69" width="3.3" height="3.3" fill="#8683ee"/>
<rect x="527.28" y="186.44" width="3.3" height="3.3" fill="#8683ee"/>
<rect x="531.93" y="187.19" width="3.3" height="3.3" fill="#8683ee"/>
<rect x="536.58" y="187.75" width="3.3" height="3.3" fill="#8683ee"/>
<rect x="541.23" y="188.13" width="3.3" height="3.3" fill="#8683ee"/>
<polyline points="310.38,110.30 310.96,109.37 311.54,108.43 312.12,107.50 312.71,106.56 313.29,103.61 313.87,100.67 314.45,97.72 315.03,94.78 315.61,83.84 316.19,72.90 316.78,58.88 317.36,44.85 317.94,36.44 318.52,28.02 319.10,25.68 319.68,23.35 320.26,23.23 320.84,23.11 321.43,22.99 322.01,22.88 322.59,22.76 323.17,22.64 323.75,22.53 324.33,22.41 324.91,22.41 325.49,22.41 326.07,22.41 326.66,22.41 327.24,22.41 327.82,22.41 328.40,22.41 328.98,22.41 329.56,22.41 330.14,22.41 330.73,22.41 331.31,22.41 331.89,22.41 332.47,22.41 333.05,22.41 333.63,22.41 334.21,22.41 334.79,22.41 335.38,22.41 335.96,22.41 336.54,22.41 337.12,22.41 337.70,22.41 338.28,22.41 338.86,22.41 339.44,22.41 340.03,22.41 340.61,22.41 341.19,22.41 341.77,22.41 342.35,22.41 342.93,22.41 343.51,22.41 344.09,22.41 344.68,22.41 345.26,22.41 345.84,22.41 346.42,22.41 347.00,22.41 347.58,22.41 348.16,22.41 348.74,22.41 349.33,22.41 349.91,22.41 350.49,22.41 351.07,22.41 351.65,22.41 352.23,22.41 352.81,22.41 353.39,22.41 353.98,22.41 354.56,22.41 355.14,22.41 355.72,22.41 356.30,22.41 356.88,22.41 357.46,22.41 358.04,22.41 358.62,22.41 359.21,22.41 359.79,22.41 360.37,22.41 360.95,22.41 361.53,22.41 362.11,22.41 362.69,22.41 363.28,22.41 363.86,22.41 364.44,22.41 365.02,22.41 365.60,22.41 366.18,22.41 366.76,22.41 367.34,22.41 367.93,22.41 368.51,22.41 369.09,22.41 369.67,22.41 370.25,22.41 370.83,22.41 371.41,22.64 371.99,22.88 372.58,23.11 373.16,23.35 373.74,25.59 374.32,27.83 374.90,30.08 375.48,32.32 376.06,35.78 376.64,39.24 377.23,46.72 377.81,54.20 378.39,72.90 378.97,100.95 379.55,147.70 380.13,192.39 380.71,195.10 381.29,197.82 381.88,198.13 382.46,198.44 383.04,198.75 383.62,199.06 384.20,199.37 384.78,199.69 385.36,199.45 385.94,199.22 386.53,198.98 387.11,198.75 387.69,198.52 388.27,198.28 388.85,198.05 389.43,197.82 390.01,197.80 390.59,197.79 391.18,197.77 391.76,197.76 392.34,197.74 392.92,197.73 393.50,197.71 394.08,197.70 394.66,197.68 395.24,197.67 395.83,197.66 396.41,197.64 396.99,197.63 397.57,197.61 398.15,197.60 398.73,197.58 399.31,197.57 399.89,197.55 400.48,197.54 401.06,197.52 401.64,197.51 402.22,197.49 402.80,197.48 403.38,197.47 403.96,197.45 404.54,197.44 405.12,197.42 405.71,197.41 406.29,197.39 406.87,197.38 407.45,197.36 408.03,197.35 408.61,197.33 409.19,197.32 409.78,197.30 410.36,197.29 410.94,197.28 411.52,197.26 412.10,197.25 412.68,197.23 413.26,197.22 413.84,197.20 414.43,197.19 415.01,197.17 415.59,197.16 416.17,197.14 416.75,197.13 417.33,197.11 417.91,197.10 418.49,197.09 419.08,197.07 419.66,197.06 420.24,197.04 420.82,197.03 421.40,197.01 421.98,197.00 422.56,196.98 423.14,196.97 423.73,196.95 424.31,196.94 424.89,196.92 425.47,196.91 426.05,196.90 426.63,196.88 427.21,196.41 427.79,195.95 428.38,195.48 428.96,195.01 429.54,194.54 430.12,194.08 430.70,193.61 431.28,193.14 431.86,189.40 432.44,185.10 433.03,175.75 433.61,166.40 434.19,152.38 434.77,138.35 435.35,121.05 435.93,103.76 436.51,72.90 437.09,44.85 437.68,35.50 438.26,26.15 438.84,25.03 439.42,23.91 440.00,22.78 440.58,21.66 441.16,21.87 441.74,22.08 442.33,22.29 442.91,22.50 443.49,22.71 444.07,22.92 444.65,23.13 445.23,23.35 445.81,23.35 446.39,23.35 446.98,23.35 447.56,23.35 448.14,23.35 448.72,23.35 449.30,23.35 449.88,23.35 450.46,23.35 451.04,23.35 451.62,23.35 452.21,23.35 452.79,23.35 453.37,23.35 453.95,23.35 454.53,23.35 455.11,23.35 455.69,23.35 456.28,23.35 456.86,23.35 457.44,23.35 458.02,23.35 458.60,23.35 459.18,23.35 459.76,23.35 460.34,23.35 460.93,23.35 461.51,23.35 462.09,23.35 462.67,23.35 463.25,23.35 463.83,23.35 464.41,23.35 464.99,23.35 465.58,23.35 466.16,23.35 466.74,23.35 467.32,23.35 467.90,23.35 468.48,23.35 469.06,23.35 469.64,23.35 470.23,23.35 470.81,23.35 471.39,23.35 471.97,23.35 472.55,23.35 473.13,23.35 473.71,23.35 474.29,23.35 474.88,23.35 475.46,23.35 476.04,23.35 476.62,23.35 477.20,23.35 477.78,23.35 478.36,23.35 478.94,23.35 479.53,23.35 480.11,23.35 480.69,23.35 481.27,23.35 481.85,23.35 482.43,23.35 483.01,23.35 483.59,23.35 484.18,23.35 484.76,23.35 485.34,23.35 485.92,23.35 486.50,23.35 487.08,23.35 487.66,23.58 488.24,23.81 488.83,24.05 489.41,24.28 489.99,26.85 490.57,29.42 491.15,31.99 491.73,34.56 492.31,38.77 492.89,42.98 493.48,50.46 494.06,57.94 494.64,76.64 495.22,104.69 495.80,151.44 496.38,196.32 496.96,196.74 497.54,197.16 498.12,197.58 498.71,198.00 499.29,198.42 499.87,198.84 500.45,199.27 501.03,199.69 501.61,199.36 502.19,199.03 502.78,198.70 503.36,198.38 503.94,198.05 504.52,197.72 505.10,197.40 505.68,197.07 506.26,197.09 506.84,197.11 507.43,197.14 508.01,197.16 508.59,197.18 509.17,197.21 509.75,197.23 510.33,197.25 510.91,197.29 511.49,197.32 512.08,197.36 512.66,197.39 513.24,197.42 513.82,197.46 514.40,197.49 514.98,197.52 515.56,197.56 516.14,197.59 516.73,197.62 517.31,197.66 517.89,197.69 518.47,197.72 519.05,197.76 519.63,197.79 520.21,197.82 520.79,197.86 521.38,197.89 521.96,197.92 522.54,197.96 523.12,197.99 523.70,198.02 524.28,198.06 524.86,198.09 525.44,198.12 526.03,198.16 526.61,198.19 527.19,198.22 527.77,198.26 528.35,198.29 528.93,198.32 529.51,198.36 530.09,198.39 530.68,198.42 531.26,198.46 531.84,198.49 532.42,198.52 533.00,198.56 533.58,198.59 534.16,198.62 534.74,198.66 535.33,198.69 535.91,198.72 536.49,198.76 537.07,198.79 537.65,198.82 538.23,198.86 538.81,198.89 539.39,198.92 539.98,198.96 540.56,198.99 541.14,199.02 541.72,199.06 542.30,199.09 542.88,199.12" fill="none" stroke="#ea2a8a" class="dl"/>
<circle cx="310.38" cy="110.30" r="1.9" fill="#e6187f"/>
<circle cx="315.03" cy="94.78" r="1.9" fill="#e6187f"/>
<circle cx="319.68" cy="23.35" r="1.9" fill="#e6187f"/>
<circle cx="324.33" cy="22.41" r="1.9" fill="#e6187f"/>
<circle cx="328.98" cy="22.41" r="1.9" fill="#e6187f"/>
<circle cx="333.63" cy="22.41" r="1.9" fill="#e6187f"/>
<circle cx="338.28" cy="22.41" r="1.9" fill="#e6187f"/>
<circle cx="342.93" cy="22.41" r="1.9" fill="#e6187f"/>
<circle cx="347.58" cy="22.41" r="1.9" fill="#e6187f"/>
<circle cx="352.23" cy="22.41" r="1.9" fill="#e6187f"/>
<circle cx="356.88" cy="22.41" r="1.9" fill="#e6187f"/>
<circle cx="361.53" cy="22.41" r="1.9" fill="#e6187f"/>
<circle cx="366.18" cy="22.41" r="1.9" fill="#e6187f"/>
<circle cx="370.83" cy="22.41" r="1.9" fill="#e6187f"/>
<circle cx="375.48" cy="32.32" r="1.9" fill="#e6187f"/>
<circle cx="380.13" cy="192.39" r="1.9" fill="#e6187f"/>
<circle cx="384.78" cy="199.69" r="1.9" fill="#e6187f"/>
<circle cx="389.43" cy="197.82" r="1.9" fill="#e6187f"/>
<circle cx="394.08" cy="197.70" r="1.9" fill="#e6187f"/>
<circle cx="398.73" cy="197.58" r="1.9" fill="#e6187f"/>
<circle cx="403.38" cy="197.47" r="1.9" fill="#e6187f"/>
<circle cx="408.03" cy="197.35" r="1.9" fill="#e6187f"/>
<circle cx="412.68" cy="197.23" r="1.9" fill="#e6187f"/>
<circle cx="417.33" cy="197.11" r="1.9" fill="#e6187f"/>
<circle cx="421.98" cy="197.00" r="1.9" fill="#e6187f"/>
<circle cx="426.63" cy="196.88" r="1.9" fill="#e6187f"/>
<circle cx="431.28" cy="193.14" r="1.9" fill="#e6187f"/>
<circle cx="435.93" cy="103.76" r="1.9" fill="#e6187f"/>
<circle cx="440.58" cy="21.66" r="1.9" fill="#e6187f"/>
<circle cx="445.23" cy="23.35" r="1.9" fill="#e6187f"/>
<circle cx="449.88" cy="23.35" r="1.9" fill="#e6187f"/>
<circle cx="454.53" cy="23.35" r="1.9" fill="#e6187f"/>
<circle cx="459.18" cy="23.35" r="1.9" fill="#e6187f"/>
<circle cx="463.83" cy="23.35" r="1.9" fill="#e6187f"/>
<circle cx="468.48" cy="23.35" r="1.9" fill="#e6187f"/>
<circle cx="473.13" cy="23.35" r="1.9" fill="#e6187f"/>
<circle cx="477.78" cy="23.35" r="1.9" fill="#e6187f"/>
<circle cx="482.43" cy="23.35" r="1.9" fill="#e6187f"/>
<circle cx="487.08" cy="23.35" r="1.9" fill="#e6187f"/>
<circle cx="491.73" cy="34.56" r="1.9" fill="#e6187f"/>
<circle cx="496.38" cy="196.32" r="1.9" fill="#e6187f"/>
<circle cx="501.03" cy="199.69" r="1.9" fill="#e6187f"/>
<circle cx="505.68" cy="197.07" r="1.9" fill="#e6187f"/>
<circle cx="510.33" cy="197.25" r="1.9" fill="#e6187f"/>
<circle cx="514.98" cy="197.52" r="1.9" fill="#e6187f"/>
<circle cx="519.63" cy="197.79" r="1.9" fill="#e6187f"/>
<circle cx="524.28" cy="198.06" r="1.9" fill="#e6187f"/>
<circle cx="528.93" cy="198.32" r="1.9" fill="#e6187f"/>
<circle cx="533.58" cy="198.59" r="1.9" fill="#e6187f"/>
<circle cx="538.23" cy="198.86" r="1.9" fill="#e6187f"/>
<circle cx="542.88" cy="199.12" r="1.9" fill="#e6187f"/>
<polyline points="310.38,110.30 310.96,44.85 311.54,42.98 312.12,41.42 312.71,39.86 313.29,38.31 313.87,36.50 314.45,34.69 315.03,32.88 315.61,29.52 316.19,26.15 316.78,21.94 317.36,17.74 317.94,17.64 318.52,17.55 319.10,17.45 319.68,17.36 320.26,17.37 320.84,17.37 321.43,17.37 322.01,17.38 322.59,17.38 323.17,17.39 323.75,17.39 324.33,17.39 324.91,17.40 325.49,17.40 326.07,17.41 326.66,17.41 327.24,17.41 327.82,17.42 328.40,17.42 328.98,17.43 329.56,17.43 330.14,17.43 330.73,17.44 331.31,17.44 331.89,17.45 332.47,17.45 333.05,17.45 333.63,17.46 334.21,17.46 334.79,17.47 335.38,17.47 335.96,17.47 336.54,17.48 337.12,17.48 337.70,17.49 338.28,17.49 338.86,17.50 339.44,17.50 340.03,17.50 340.61,17.51 341.19,17.51 341.77,17.52 342.35,17.52 342.93,17.52 343.51,17.53 344.09,17.53 344.68,17.54 345.26,17.54 345.84,17.54 346.42,17.55 347.00,17.55 347.58,17.56 348.16,17.56 348.74,17.56 349.33,17.57 349.91,17.57 350.49,17.58 351.07,17.58 351.65,17.58 352.23,17.59 352.81,17.59 353.39,17.60 353.98,17.60 354.56,17.60 355.14,17.61 355.72,17.61 356.30,17.62 356.88,17.62 357.46,17.63 358.04,17.63 358.62,17.63 359.21,17.64 359.79,17.64 360.37,17.65 360.95,17.65 361.53,17.65 362.11,17.66 362.69,17.66 363.28,17.67 363.86,17.67 364.44,17.67 365.02,17.68 365.60,17.68 366.18,17.69 366.76,17.69 367.34,17.69 367.93,17.70 368.51,17.70 369.09,17.71 369.67,17.71 370.25,17.71 370.83,17.72 371.41,17.72 371.99,17.73 372.58,17.73 373.16,17.74 373.74,18.20 374.32,18.67 374.90,24.28 375.48,170.14 376.06,194.45 376.64,200.06 377.23,201.00 377.81,201.93 378.39,201.93 378.97,201.93 379.55,201.93 380.13,201.93 380.71,201.93 381.29,201.93 381.88,201.93 382.46,201.93 383.04,201.93 383.62,201.93 384.20,201.93 384.78,201.93 385.36,201.93 385.94,201.93 386.53,201.93 387.11,201.93 387.69,201.93 388.27,201.93 388.85,201.93 389.43,201.93 390.01,201.93 390.59,201.93 391.18,201.93 391.76,201.93 392.34,201.93 392.92,201.93 393.50,201.93 394.08,201.93 394.66,201.93 395.24,201.93 395.83,201.93 396.41,201.93 396.99,201.93 397.57,201.93 398.15,201.93 398.73,201.93 399.31,201.93 399.89,201.93 400.48,201.93 401.06,201.93 401.64,201.93 402.22,201.93 402.80,201.93 403.38,201.93 403.96,201.93 404.54,201.93 405.12,201.93 405.71,201.93 406.29,201.93 406.87,201.93 407.45,201.93 408.03,201.93 408.61,201.93 409.19,201.93 409.78,201.93 410.36,201.93 410.94,201.93 411.52,201.93 412.10,201.93 412.68,201.93 413.26,201.93 413.84,201.93 414.43,201.93 415.01,201.93 415.59,201.93 416.17,201.93 416.75,201.93 417.33,201.93 417.91,201.93 418.49,201.93 419.08,201.93 419.66,201.93 420.24,201.93 420.82,201.93 421.40,201.93 421.98,201.93 422.56,201.93 423.14,201.93 423.73,201.93 424.31,201.93 424.89,201.93 425.47,201.93 426.05,201.93 426.63,201.93 427.21,201.77 427.79,201.62 428.38,201.46 428.96,201.31 429.54,201.15 430.12,201.00 430.70,199.78 431.28,198.56 431.86,194.45 432.44,166.40 433.03,100.95 433.61,44.85 434.19,22.41 434.77,17.74 435.35,17.74 435.93,17.74 436.51,17.74 437.09,17.74 437.68,17.74 438.26,17.74 438.84,17.74 439.42,17.74 440.00,17.74 440.58,17.74 441.16,17.74 441.74,17.74 442.33,17.74 442.91,17.74 443.49,17.74 444.07,17.74 444.65,17.74 445.23,17.74 445.81,17.74 446.39,17.74 446.98,17.74 447.56,17.74 448.14,17.74 448.72,17.74 449.30,17.74 449.88,17.74 450.46,17.74 451.04,17.74 451.62,17.74 452.21,17.74 452.79,17.74 453.37,17.74 453.95,17.74 454.53,17.74 455.11,17.74 455.69,17.74 456.28,17.74 456.86,17.74 457.44,17.74 458.02,17.74 458.60,17.74 459.18,17.74 459.76,17.74 460.34,17.74 460.93,17.74 461.51,17.74 462.09,17.74 462.67,17.74 463.25,17.74 463.83,17.74 464.41,17.74 464.99,17.74 465.58,17.74 466.16,17.74 466.74,17.74 467.32,17.74 467.90,17.74 468.48,17.74 469.06,17.74 469.64,17.74 470.23,17.74 470.81,17.74 471.39,17.74 471.97,17.74 472.55,17.74 473.13,17.74 473.71,17.74 474.29,17.74 474.88,17.74 475.46,17.74 476.04,17.74 476.62,17.74 477.20,17.74 477.78,17.74 478.36,17.74 478.94,17.74 479.53,17.74 480.11,17.74 480.69,17.74 481.27,17.74 481.85,17.74 482.43,17.74 483.01,17.74 483.59,17.74 484.18,17.74 484.76,17.74 485.34,17.74 485.92,17.74 486.50,17.74 487.08,17.74 487.66,17.74 488.24,17.74 488.83,17.74 489.41,17.74 489.99,19.29 490.57,20.85 491.15,22.41 491.73,173.32 492.31,196.32 492.89,201.00 493.48,201.46 494.06,201.93 494.64,201.93 495.22,201.93 495.80,201.93 496.38,201.93 496.96,201.93 497.54,201.93 498.12,201.93 498.71,201.93 499.29,201.93 499.87,201.93 500.45,201.93 501.03,201.93 501.61,201.93 502.19,201.93 502.78,201.93 503.36,201.93 503.94,201.93 504.52,201.93 505.10,201.93 505.68,201.93 506.26,201.93 506.84,201.93 507.43,201.93 508.01,201.93 508.59,201.93 509.17,201.93 509.75,201.93 510.33,201.93 510.91,201.93 511.49,201.93 512.08,201.93 512.66,201.93 513.24,201.93 513.82,201.93 514.40,201.93 514.98,201.93 515.56,201.93 516.14,201.93 516.73,201.93 517.31,201.93 517.89,201.93 518.47,201.93 519.05,201.93 519.63,201.93 520.21,201.93 520.79,201.93 521.38,201.93 521.96,201.93 522.54,201.93 523.12,201.93 523.70,201.93 524.28,201.93 524.86,201.93 525.44,201.93 526.03,201.93 526.61,201.93 527.19,201.93 527.77,201.93 528.35,201.93 528.93,201.93 529.51,201.93 530.09,201.93 530.68,201.93 531.26,201.93 531.84,201.93 532.42,201.93 533.00,201.93 533.58,201.93 534.16,201.93 534.74,201.93 535.33,201.93 535.91,201.93 536.49,201.93 537.07,201.93 537.65,201.93 538.23,201.93 538.81,201.93 539.39,201.93 539.98,201.93 540.56,201.93 541.14,201.93 541.72,201.93 542.30,201.93 542.88,201.93" fill="none" stroke="#2ea6e2" class="dl"/>
<path d="M310.38 108.00L312.57 112.03L308.20 112.03Z" fill="#2ea6e2"/>
<path d="M315.03 30.58L317.22 34.61L312.85 34.61Z" fill="#2ea6e2"/>
<path d="M319.68 15.06L321.87 19.09L317.50 19.09Z" fill="#2ea6e2"/>
<path d="M324.33 15.09L326.52 19.12L322.15 19.12Z" fill="#2ea6e2"/>
<path d="M328.98 15.13L331.17 19.15L326.80 19.15Z" fill="#2ea6e2"/>
<path d="M333.63 15.16L335.82 19.18L331.45 19.18Z" fill="#2ea6e2"/>
<path d="M338.28 15.19L340.47 19.22L336.10 19.22Z" fill="#2ea6e2"/>
<path d="M342.93 15.22L345.12 19.25L340.75 19.25Z" fill="#2ea6e2"/>
<path d="M347.58 15.26L349.77 19.28L345.40 19.28Z" fill="#2ea6e2"/>
<path d="M352.23 15.29L354.42 19.31L350.05 19.31Z" fill="#2ea6e2"/>
<path d="M356.88 15.32L359.07 19.35L354.70 19.35Z" fill="#2ea6e2"/>
<path d="M361.53 15.35L363.72 19.38L359.35 19.38Z" fill="#2ea6e2"/>
<path d="M366.18 15.39L368.37 19.41L364.00 19.41Z" fill="#2ea6e2"/>
<path d="M370.83 15.42L373.02 19.44L368.65 19.44Z" fill="#2ea6e2"/>
<path d="M375.48 167.84L377.67 171.86L373.30 171.86Z" fill="#2ea6e2"/>
<path d="M380.13 199.63L382.32 203.66L377.95 203.66Z" fill="#2ea6e2"/>
<path d="M384.78 199.63L386.97 203.66L382.60 203.66Z" fill="#2ea6e2"/>
<path d="M389.43 199.63L391.62 203.66L387.25 203.66Z" fill="#2ea6e2"/>
<path d="M394.08 199.63L396.27 203.66L391.90 203.66Z" fill="#2ea6e2"/>
<path d="M398.73 199.63L400.92 203.66L396.55 203.66Z" fill="#2ea6e2"/>
<path d="M403.38 199.63L405.57 203.66L401.20 203.66Z" fill="#2ea6e2"/>
<path d="M408.03 199.63L410.22 203.66L405.85 203.66Z" fill="#2ea6e2"/>
<path d="M412.68 199.63L414.87 203.66L410.50 203.66Z" fill="#2ea6e2"/>
<path d="M417.33 199.63L419.52 203.66L415.15 203.66Z" fill="#2ea6e2"/>
<path d="M421.98 199.63L424.17 203.66L419.80 203.66Z" fill="#2ea6e2"/>
<path d="M426.63 199.63L428.82 203.66L424.45 203.66Z" fill="#2ea6e2"/>
<path d="M431.28 196.26L433.47 200.29L429.10 200.29Z" fill="#2ea6e2"/>
<path d="M435.93 15.44L438.12 19.46L433.75 19.46Z" fill="#2ea6e2"/>
<path d="M440.58 15.44L442.77 19.46L438.40 19.46Z" fill="#2ea6e2"/>
<path d="M445.23 15.44L447.42 19.46L443.05 19.46Z" fill="#2ea6e2"/>
<path d="M449.88 15.44L452.07 19.46L447.70 19.46Z" fill="#2ea6e2"/>
<path d="M454.53 15.44L456.72 19.46L452.35 19.46Z" fill="#2ea6e2"/>
<path d="M459.18 15.44L461.37 19.46L457.00 19.46Z" fill="#2ea6e2"/>
<path d="M463.83 15.44L466.02 19.46L461.65 19.46Z" fill="#2ea6e2"/>
<path d="M468.48 15.44L470.67 19.46L466.30 19.46Z" fill="#2ea6e2"/>
<path d="M473.13 15.44L475.32 19.46L470.95 19.46Z" fill="#2ea6e2"/>
<path d="M477.78 15.44L479.97 19.46L475.60 19.46Z" fill="#2ea6e2"/>
<path d="M482.43 15.44L484.62 19.46L480.25 19.46Z" fill="#2ea6e2"/>
<path d="M487.08 15.44L489.27 19.46L484.90 19.46Z" fill="#2ea6e2"/>
<path d="M491.73 171.02L493.92 175.04L489.55 175.04Z" fill="#2ea6e2"/>
<path d="M496.38 199.63L498.57 203.66L494.20 203.66Z" fill="#2ea6e2"/>
<path d="M501.03 199.63L503.22 203.66L498.85 203.66Z" fill="#2ea6e2"/>
<path d="M505.68 199.63L507.87 203.66L503.50 203.66Z" fill="#2ea6e2"/>
<path d="M510.33 199.63L512.52 203.66L508.15 203.66Z" fill="#2ea6e2"/>
<path d="M514.98 199.63L517.17 203.66L512.80 203.66Z" fill="#2ea6e2"/>
<path d="M519.63 199.63L521.82 203.66L517.45 203.66Z" fill="#2ea6e2"/>
<path d="M524.28 199.63L526.47 203.66L522.10 203.66Z" fill="#2ea6e2"/>
<path d="M528.93 199.63L531.12 203.66L526.75 203.66Z" fill="#2ea6e2"/>
<path d="M533.58 199.63L535.77 203.66L531.40 203.66Z" fill="#2ea6e2"/>
<path d="M538.23 199.63L540.42 203.66L536.05 203.66Z" fill="#2ea6e2"/>
<path d="M542.88 199.63L545.07 203.66L540.70 203.66Z" fill="#2ea6e2"/>
</g>
<rect x="309.8" y="16.8" width="232.5" height="187.0" fill="none" stroke="#2e2e2e" stroke-width="1.1"/>
<line x1="309.80" y1="203.8" x2="309.80" y2="200.8" class="tk"/>
<text x="309.50" y="214.25" class="tl" text-anchor="middle">0</text>
<line x1="338.86" y1="203.8" x2="338.86" y2="202.20000000000002" class="tk"/>
<line x1="367.93" y1="203.8" x2="367.93" y2="200.8" class="tk"/>
<text x="367.62" y="214.25" class="tl" text-anchor="middle">100</text>
<line x1="396.99" y1="203.8" x2="396.99" y2="202.20000000000002" class="tk"/>
<line x1="426.05" y1="203.8" x2="426.05" y2="200.8" class="tk"/>
<text x="425.75" y="214.25" class="tl" text-anchor="middle">200</text>
<line x1="455.11" y1="203.8" x2="455.11" y2="202.20000000000002" class="tk"/>
<line x1="484.18" y1="203.8" x2="484.18" y2="200.8" class="tk"/>
<text x="483.88" y="214.25" class="tl" text-anchor="middle">300</text>
<line x1="513.24" y1="203.8" x2="513.24" y2="202.20000000000002" class="tk"/>
<line x1="542.30" y1="203.8" x2="542.30" y2="200.8" class="tk"/>
<text x="542.00" y="214.25" class="tl" text-anchor="middle">400</text>
<line x1="309.8" y1="203.80" x2="312.8" y2="203.80" class="tk"/>
<text x="305.80" y="206.60" class="tl" text-anchor="end">0.0</text>
<line x1="309.8" y1="185.10" x2="311.40000000000003" y2="185.10" class="tk"/>
<line x1="309.8" y1="166.40" x2="312.8" y2="166.40" class="tk"/>
<text x="305.80" y="169.20" class="tl" text-anchor="end">0.2</text>
<line x1="309.8" y1="147.70" x2="311.40000000000003" y2="147.70" class="tk"/>
<line x1="309.8" y1="129.00" x2="312.8" y2="129.00" class="tk"/>
<text x="305.80" y="131.80" class="tl" text-anchor="end">0.4</text>
<line x1="309.8" y1="110.30" x2="311.40000000000003" y2="110.30" class="tk"/>
<line x1="309.8" y1="91.60" x2="312.8" y2="91.60" class="tk"/>
<text x="305.80" y="94.40" class="tl" text-anchor="end">0.6</text>
<line x1="309.8" y1="72.90" x2="311.40000000000003" y2="72.90" class="tk"/>
<line x1="309.8" y1="54.20" x2="312.8" y2="54.20" class="tk"/>
<text x="305.80" y="57.00" class="tl" text-anchor="end">0.8</text>
<line x1="309.8" y1="35.50" x2="311.40000000000003" y2="35.50" class="tk"/>
<line x1="309.8" y1="16.80" x2="312.8" y2="16.80" class="tk"/>
<text x="305.80" y="19.60" class="tl" text-anchor="end">1.0</text>
<text x="426.05" y="229.10" class="al2" text-anchor="middle">Time(s)</text>
<text transform="translate(291.10,110.30) rotate(-90)" class="al" text-anchor="middle">Probability of CT model</text>
<text x="416.20" y="245.20" class="cap" text-anchor="middle">(<tspan font-weight="bold">b</tspan>)</text>
<rect x="349.6" y="3.15" width="166.6" height="9.9" fill="#fff" stroke="#858585" stroke-width="1.1"/>
<line x1="350.6" y1="8.3" x2="366.20000000000005" y2="8.3" stroke="#6f6cf2" class="dl"/>
<rect x="356.75" y="6.65" width="3.3" height="3.3" fill="#8683ee"/>
<text x="367.1" y="10.9" class="lg">CIMM</text>
<line x1="390.40000000000003" y1="8.3" x2="406.00000000000006" y2="8.3" stroke="#ea2a8a" class="dl"/>
<circle cx="398.20" cy="8.30" r="1.9" fill="#e6187f"/>
<text x="407.90000000000003" y="10.9" class="lg">ATPM-PIMM</text>
<line x1="454.1" y1="8.3" x2="469.70000000000005" y2="8.3" stroke="#2ea6e2" class="dl"/>
<path d="M461.90 6.00L464.09 10.03L459.72 10.03Z" fill="#2ea6e2"/>
<text x="471.6" y="10.9" class="lg">ATPFC-IMM</text>
</g>
<g>
<line x1="88.62" y1="262.8" x2="88.62" y2="449.8" class="gr"/>
<line x1="146.75" y1="262.8" x2="146.75" y2="449.8" class="gr"/>
<line x1="204.88" y1="262.8" x2="204.88" y2="449.8" class="gr"/>
<line x1="30.5" y1="412.40" x2="263.0" y2="412.40" class="gr"/>
<line x1="30.5" y1="375.00" x2="263.0" y2="375.00" class="gr"/>
<line x1="30.5" y1="337.60" x2="263.0" y2="337.60" class="gr"/>
<line x1="30.5" y1="300.20" x2="263.0" y2="300.20" class="gr"/>
<clipPath id="clc"><rect x="30.5" y="262.3" width="232.5" height="188.0"/></clipPath>
<g clip-path="url(#clc)">
<polyline points="31.08,356.30 31.66,356.82 32.24,359.57 32.83,361.46 33.41,362.84 33.99,365.01 34.57,367.91 35.15,370.67 35.73,373.13 36.31,382.26 36.89,390.44 37.48,398.11 38.06,405.44 38.64,411.48 39.22,417.99 39.80,424.69 40.38,430.17 40.96,431.19 41.54,431.53 42.12,432.10 42.71,432.98 43.29,432.38 43.87,432.11 44.45,432.99 45.03,433.72 45.61,433.69 46.19,432.70 46.78,432.30 47.36,432.17 47.94,431.27 48.52,429.65 49.10,429.35 49.68,429.60 50.26,430.59 50.84,430.99 51.42,431.24 52.01,431.10 52.59,429.79 53.17,429.20 53.75,429.52 54.33,429.23 54.91,429.49 55.49,429.51 56.08,429.99 56.66,429.79 57.24,429.34 57.82,429.01 58.40,429.35 58.98,428.11 59.56,428.68 60.14,427.41 60.73,426.94 61.31,426.87 61.89,426.64 62.47,427.40 63.05,427.81 63.63,428.11 64.21,429.12 64.79,430.17 65.38,429.50 65.96,428.66 66.54,428.22 67.12,428.35 67.70,429.04 68.28,429.79 68.86,430.07 69.44,430.37 70.03,430.58 70.61,429.92 71.19,429.89 71.77,430.24 72.35,430.93 72.93,431.10 73.51,430.06 74.09,429.85 74.68,430.16 75.26,430.18 75.84,430.90 76.42,430.76 77.00,430.94 77.58,430.54 78.16,430.58 78.74,430.23 79.33,430.32 79.91,429.88 80.49,429.35 81.07,429.75 81.65,431.20 82.23,429.60 82.81,431.33 83.39,430.42 83.97,430.41 84.56,430.11 85.14,429.97 85.72,429.78 86.30,429.62 86.88,429.60 87.46,429.60 88.04,428.72 88.62,427.52 89.21,427.75 89.79,428.54 90.37,428.22 90.95,426.96 91.53,427.36 92.11,425.17 92.69,424.08 93.28,422.06 93.86,419.72 94.44,413.79 95.02,408.30 95.60,402.63 96.18,396.32 96.76,383.56 97.34,370.59 97.93,357.60 98.51,344.32 99.09,332.22 99.67,319.58 100.25,307.11 100.83,294.59 101.41,291.39 101.99,288.41 102.58,285.10 103.16,280.98 103.74,280.00 104.32,279.65 104.90,279.57 105.48,279.07 106.06,280.37 106.64,280.04 107.23,279.89 107.81,280.80 108.39,282.10 108.97,283.09 109.55,283.84 110.13,284.31 110.71,284.20 111.29,284.76 111.88,285.48 112.46,285.12 113.04,284.31 113.62,283.49 114.20,283.59 114.78,283.93 115.36,283.87 115.94,283.89 116.53,284.11 117.11,284.16 117.69,284.64 118.27,284.90 118.85,285.47 119.43,285.43 120.01,286.00 120.59,285.58 121.18,285.97 121.76,286.29 122.34,286.57 122.92,286.13 123.50,286.43 124.08,286.74 124.66,287.01 125.24,287.16 125.83,286.28 126.41,285.67 126.99,285.99 127.57,286.55 128.15,286.49 128.73,286.18 129.31,286.24 129.89,286.19 130.48,286.82 131.06,287.46 131.64,287.45 132.22,288.00 132.80,288.59 133.38,287.48 133.96,287.67 134.54,286.90 135.12,286.33 135.71,286.37 136.29,286.95 136.87,287.80 137.45,288.78 138.03,287.86 138.61,289.41 139.19,288.59 139.78,287.86 140.36,287.65 140.94,288.10 141.52,288.90 142.10,288.86 142.68,287.86 143.26,287.63 143.84,287.84 144.43,287.36 145.01,286.76 145.59,286.61 146.17,287.66 146.75,288.26 147.33,287.86 147.91,288.05 148.49,287.92 149.07,287.78 149.66,287.39 150.24,287.22 150.82,287.70 151.40,288.34 151.98,288.98 152.56,298.59 153.14,307.41 153.73,316.49 154.31,325.20 154.89,339.42 155.47,353.14 156.05,367.09 156.63,381.17 157.21,390.77 157.79,401.35 158.38,411.75 158.96,422.12 159.54,425.51 160.12,428.08 160.70,431.08 161.28,434.84 161.86,433.64 162.44,432.70 163.03,431.39 163.61,429.06 164.19,428.03 164.77,427.09 165.35,426.39 165.93,426.24 166.51,425.12 167.09,424.65 167.68,425.00 168.26,426.16 168.84,426.29 169.42,426.79 170.00,426.88 170.58,426.24 171.16,424.75 171.74,424.61 172.33,425.15 172.91,424.80 173.49,424.73 174.07,424.53 174.65,424.65 175.23,426.24 175.81,425.37 176.39,426.62 176.98,427.59 177.56,428.10 178.14,427.70 178.72,427.90 179.30,428.34 179.88,427.92 180.46,427.40 181.04,426.45 181.62,426.39 182.21,426.88 182.79,426.93 183.37,426.68 183.95,426.80 184.53,427.17 185.11,427.04 185.69,427.51 186.28,428.04 186.86,428.28 187.44,428.59 188.02,428.93 188.60,428.43 189.18,429.23 189.76,428.22 190.34,428.82 190.93,428.83 191.51,429.72 192.09,430.12 192.67,430.51 193.25,429.89 193.83,429.79 194.41,429.56 194.99,429.95 195.58,429.52 196.16,428.66 196.74,428.45 197.32,429.49 197.90,430.26 198.48,430.35 199.06,428.75 199.64,429.00 200.23,429.84 200.81,430.62 201.39,430.43 201.97,430.59 202.55,429.93 203.13,428.67 203.71,428.25 204.29,427.43 204.88,427.15 205.46,427.99 206.04,428.23 206.62,427.01 207.20,426.40 207.78,426.24 208.36,425.22 208.94,422.55 209.53,420.14 210.11,417.61 210.69,411.96 211.27,406.30 211.85,401.74 212.43,396.32 213.01,382.02 213.59,367.86 214.18,353.32 214.76,338.92 215.34,325.93 215.92,313.92 216.50,300.28 217.08,287.86 217.66,284.61 218.24,282.88 218.83,281.41 219.41,280.75 219.99,281.18 220.57,280.00 221.15,278.87 221.73,279.07 222.31,279.05 222.89,280.32 223.48,281.52 224.06,281.66 224.64,281.85 225.22,283.71 225.80,285.40 226.38,284.87 226.96,285.70 227.54,286.51 228.13,287.14 228.71,288.65 229.29,288.98 229.87,288.75 230.45,288.08 231.03,290.29 231.61,290.57 232.19,292.03 232.78,291.92 233.36,291.81 233.94,291.28 234.52,291.51 235.10,291.41 235.68,291.41 236.26,290.56 236.84,290.32 237.43,291.04 238.01,291.46 238.59,291.32 239.17,290.13 239.75,289.31 240.33,288.98 240.91,288.16 241.49,288.10 242.08,288.05 242.66,287.34 243.24,286.72 243.82,286.51 244.40,285.62 244.98,285.61 245.56,284.69 246.14,284.88 246.73,284.20 247.31,284.76 247.89,284.74 248.47,285.04 249.05,284.41 249.63,284.31 250.21,284.01 250.79,284.80 251.38,285.57 251.96,284.98 252.54,284.99 253.12,284.80 253.70,285.07 254.28,283.93 254.86,284.93 255.44,284.10 256.02,283.69 256.61,283.71 257.19,283.71 257.77,283.38 258.35,284.06 258.93,282.81 259.51,283.48 260.09,281.59 260.68,280.12 261.26,279.33 261.84,279.39 262.42,280.07 263.00,279.94 263.58,279.07" fill="none" stroke="#6f6cf2" class="dl"/>
<rect x="29.43" y="354.65" width="3.3" height="3.3" fill="#8683ee"/>
<rect x="34.08" y="371.48" width="3.3" height="3.3" fill="#8683ee"/>
<rect x="38.73" y="428.52" width="3.3" height="3.3" fill="#8683ee"/>
<rect x="43.38" y="432.07" width="3.3" height="3.3" fill="#8683ee"/>
<rect x="48.03" y="427.95" width="3.3" height="3.3" fill="#8683ee"/>
<rect x="52.68" y="427.58" width="3.3" height="3.3" fill="#8683ee"/>
<rect x="57.33" y="426.46" width="3.3" height="3.3" fill="#8683ee"/>
<rect x="61.98" y="426.46" width="3.3" height="3.3" fill="#8683ee"/>
<rect x="66.63" y="428.14" width="3.3" height="3.3" fill="#8683ee"/>
<rect x="71.28" y="429.45" width="3.3" height="3.3" fill="#8683ee"/>
<rect x="75.93" y="428.89" width="3.3" height="3.3" fill="#8683ee"/>
<rect x="80.58" y="427.95" width="3.3" height="3.3" fill="#8683ee"/>
<rect x="85.23" y="427.95" width="3.3" height="3.3" fill="#8683ee"/>
<rect x="89.88" y="425.71" width="3.3" height="3.3" fill="#8683ee"/>
<rect x="94.53" y="394.67" width="3.3" height="3.3" fill="#8683ee"/>
<rect x="99.18" y="292.94" width="3.3" height="3.3" fill="#8683ee"/>
<rect x="103.83" y="277.42" width="3.3" height="3.3" fill="#8683ee"/>
<rect x="108.48" y="282.66" width="3.3" height="3.3" fill="#8683ee"/>
<rect x="113.13" y="282.28" width="3.3" height="3.3" fill="#8683ee"/>
<rect x="117.78" y="283.78" width="3.3" height="3.3" fill="#8683ee"/>
<rect x="122.43" y="285.09" width="3.3" height="3.3" fill="#8683ee"/>
<rect x="127.08" y="284.53" width="3.3" height="3.3" fill="#8683ee"/>
<rect x="131.73" y="285.83" width="3.3" height="3.3" fill="#8683ee"/>
<rect x="136.38" y="286.21" width="3.3" height="3.3" fill="#8683ee"/>
<rect x="141.03" y="286.21" width="3.3" height="3.3" fill="#8683ee"/>
<rect x="145.68" y="286.21" width="3.3" height="3.3" fill="#8683ee"/>
<rect x="150.33" y="287.33" width="3.3" height="3.3" fill="#8683ee"/>
<rect x="154.98" y="379.52" width="3.3" height="3.3" fill="#8683ee"/>
<rect x="159.63" y="433.19" width="3.3" height="3.3" fill="#8683ee"/>
<rect x="164.28" y="424.59" width="3.3" height="3.3" fill="#8683ee"/>
<rect x="168.93" y="424.59" width="3.3" height="3.3" fill="#8683ee"/>
<rect x="173.58" y="424.59" width="3.3" height="3.3" fill="#8683ee"/>
<rect x="178.23" y="426.27" width="3.3" height="3.3" fill="#8683ee"/>
<rect x="182.88" y="425.52" width="3.3" height="3.3" fill="#8683ee"/>
<rect x="187.53" y="427.58" width="3.3" height="3.3" fill="#8683ee"/>
<rect x="192.18" y="428.14" width="3.3" height="3.3" fill="#8683ee"/>
<rect x="196.83" y="428.70" width="3.3" height="3.3" fill="#8683ee"/>
<rect x="201.48" y="427.02" width="3.3" height="3.3" fill="#8683ee"/>
<rect x="206.13" y="424.59" width="3.3" height="3.3" fill="#8683ee"/>
<rect x="210.78" y="394.67" width="3.3" height="3.3" fill="#8683ee"/>
<rect x="215.43" y="286.21" width="3.3" height="3.3" fill="#8683ee"/>
<rect x="220.08" y="277.42" width="3.3" height="3.3" fill="#8683ee"/>
<rect x="224.73" y="283.22" width="3.3" height="3.3" fill="#8683ee"/>
<rect x="229.38" y="288.64" width="3.3" height="3.3" fill="#8683ee"/>
<rect x="234.03" y="289.76" width="3.3" height="3.3" fill="#8683ee"/>
<rect x="238.68" y="287.33" width="3.3" height="3.3" fill="#8683ee"/>
<rect x="243.33" y="283.96" width="3.3" height="3.3" fill="#8683ee"/>
<rect x="247.98" y="282.66" width="3.3" height="3.3" fill="#8683ee"/>
<rect x="252.63" y="282.28" width="3.3" height="3.3" fill="#8683ee"/>
<rect x="257.28" y="281.16" width="3.3" height="3.3" fill="#8683ee"/>
<rect x="261.93" y="277.42" width="3.3" height="3.3" fill="#8683ee"/>
<polyline points="31.08,356.30 31.66,356.20 32.24,357.12 32.83,357.61 33.41,357.03 33.99,358.86 34.57,361.50 35.15,364.48 35.73,366.02 36.31,375.00 36.89,382.81 37.48,390.44 38.06,398.24 38.64,406.75 39.22,415.85 39.80,424.77 40.38,433.72 40.96,435.67 41.54,437.23 42.12,438.88 42.71,441.63 43.29,442.99 43.87,443.65 44.45,444.18 45.03,443.82 45.61,444.30 46.19,442.85 46.78,442.56 47.36,442.71 47.94,442.62 48.52,442.75 49.10,443.31 49.68,443.07 50.26,442.69 50.84,442.87 51.42,442.84 52.01,442.03 52.59,440.48 53.17,439.32 53.75,439.40 54.33,440.26 54.91,439.41 55.49,440.09 56.08,440.89 56.66,441.17 57.24,440.79 57.82,441.16 58.40,440.84 58.98,441.57 59.56,441.12 60.14,441.27 60.73,441.12 61.31,441.25 61.89,441.22 62.47,441.26 63.05,441.54 63.63,441.57 64.21,442.59 64.79,442.67 65.38,441.69 65.96,441.21 66.54,441.34 67.12,442.29 67.70,442.32 68.28,441.57 68.86,440.65 69.44,440.63 70.03,441.26 70.61,441.71 71.19,441.78 71.77,442.01 72.35,441.96 72.93,440.82 73.51,440.96 74.09,440.62 74.68,441.00 75.26,441.97 75.84,442.49 76.42,442.80 77.00,442.28 77.58,442.32 78.16,441.47 78.74,441.89 79.33,442.87 79.91,442.97 80.49,442.07 81.07,441.92 81.65,442.54 82.23,442.32 82.81,442.13 83.39,441.87 83.97,442.13 84.56,442.43 85.14,442.70 85.72,442.22 86.30,442.25 86.88,442.69 87.46,442.81 88.04,441.87 88.62,441.63 89.21,440.74 89.79,441.01 90.37,440.24 90.95,439.53 91.53,439.51 92.11,438.14 92.69,437.20 93.28,436.11 93.86,435.36 94.44,431.96 95.02,428.49 95.60,424.44 96.18,420.44 96.76,407.47 97.34,395.20 97.93,383.31 98.51,372.28 99.09,355.49 99.67,337.58 100.25,319.48 100.83,302.07 101.41,296.02 101.99,290.35 102.58,284.76 103.16,278.94 103.74,275.63 104.32,273.06 104.90,271.95 105.48,270.84 106.06,270.60 106.64,269.82 107.23,270.08 107.81,270.71 108.39,270.98 108.97,270.50 109.55,269.54 110.13,270.28 110.71,268.92 111.29,269.97 111.88,270.68 112.46,270.40 113.04,270.01 113.62,269.68 114.20,269.45 114.78,269.91 115.36,269.44 115.94,270.30 116.53,271.66 117.11,272.24 117.69,272.39 118.27,272.71 118.85,272.42 119.43,271.59 120.01,271.41 120.59,272.04 121.18,272.73 121.76,273.00 122.34,271.93 122.92,271.83 123.50,271.93 124.08,271.59 124.66,271.04 125.24,271.18 125.83,271.14 126.41,271.36 126.99,271.17 127.57,270.64 128.15,270.42 128.73,270.84 129.31,271.65 129.89,270.90 130.48,270.12 131.06,269.97 131.64,270.74 132.22,271.88 132.80,272.18 133.38,271.59 133.96,272.01 134.54,272.56 135.12,272.75 135.71,272.25 136.29,272.84 136.87,273.31 137.45,274.22 138.03,274.02 138.61,274.67 139.19,273.67 139.78,272.13 140.36,271.80 140.94,272.53 141.52,273.33 142.10,273.85 142.68,274.02 143.26,274.71 143.84,273.99 144.43,273.52 145.01,273.03 145.59,274.14 146.17,274.33 146.75,274.24 147.33,274.96 147.91,275.12 148.49,276.28 149.07,276.96 149.66,277.06 150.24,276.77 150.82,277.47 151.40,278.71 151.98,279.07 152.56,284.31 153.14,289.30 153.73,295.04 154.31,300.16 154.89,311.51 155.47,323.09 156.05,335.15 156.63,348.07 157.21,362.63 157.79,378.92 158.38,395.72 158.96,412.57 159.54,419.36 160.12,425.71 160.70,431.85 161.28,439.14 161.86,439.21 162.44,440.09 163.03,439.88 163.61,440.06 164.19,440.03 164.77,440.91 165.35,441.26 165.93,441.20 166.51,440.97 167.09,440.41 167.68,440.33 168.26,441.30 168.84,441.70 169.42,441.35 170.00,440.22 170.58,440.82 171.16,441.29 171.74,441.93 172.33,441.60 172.91,441.97 173.49,442.07 174.07,441.42 174.65,441.35 175.23,441.20 175.81,441.34 176.39,440.36 176.98,440.60 177.56,440.31 178.14,440.16 178.72,440.54 179.30,441.20 179.88,441.38 180.46,441.18 181.04,441.67 181.62,441.17 182.21,441.39 182.79,440.62 183.37,440.37 183.95,439.97 184.53,440.82 185.11,440.32 185.69,441.07 186.28,441.35 186.86,441.40 187.44,440.62 188.02,440.53 188.60,439.39 189.18,441.38 189.76,439.71 190.34,440.90 190.93,440.46 191.51,441.30 192.09,441.18 192.67,441.54 193.25,441.91 193.83,441.38 194.41,442.71 194.99,441.65 195.58,441.16 196.16,440.76 196.74,440.67 197.32,440.71 197.90,441.71 198.48,440.82 199.06,441.04 199.64,440.41 200.23,441.48 200.81,442.54 201.39,441.77 201.97,441.00 202.55,441.08 203.13,441.20 203.71,441.37 204.29,440.96 204.88,440.92 205.46,441.52 206.04,441.22 206.62,440.17 207.20,439.34 207.78,439.51 208.36,437.45 208.94,435.79 209.53,434.41 210.11,432.82 210.69,427.38 211.27,422.01 211.85,417.15 212.43,412.40 213.01,399.95 213.59,386.97 214.18,374.26 214.76,361.50 215.34,346.19 215.92,330.36 216.50,313.82 217.08,297.96 217.66,292.04 218.24,286.53 218.83,280.76 219.41,276.53 219.99,274.47 220.57,272.44 221.15,270.26 221.73,268.04 222.31,268.77 222.89,269.57 223.48,270.62 224.06,270.76 224.64,270.51 225.22,270.31 225.80,270.59 226.38,271.59 226.96,271.86 227.54,272.50 228.13,272.06 228.71,272.03 229.29,273.00 229.87,274.66 230.45,274.36 231.03,274.02 231.61,274.77 232.19,275.60 232.78,275.92 233.36,276.07 233.94,275.87 234.52,276.21 235.10,277.01 235.68,278.13 236.26,278.00 236.84,277.82 237.43,276.75 238.01,276.09 238.59,275.46 239.17,275.39 239.75,275.24 240.33,274.02 240.91,274.41 241.49,273.43 242.08,272.63 242.66,273.22 243.24,273.53 243.82,273.28 244.40,273.19 244.98,272.71 245.56,273.31 246.14,272.16 246.73,271.63 247.31,271.58 247.89,271.54 248.47,271.47 249.05,271.58 249.63,271.59 250.21,272.04 250.79,271.98 251.38,270.76 251.96,270.16 252.54,270.17 253.12,271.02 253.70,271.09 254.28,270.84 254.86,270.70 255.44,270.45 256.02,270.02 256.61,270.25 257.19,270.17 257.77,269.91 258.35,269.89 258.93,269.91 259.51,269.96 260.09,269.47 260.68,269.59 261.26,270.18 261.84,269.62 262.42,269.23 263.00,269.08 263.58,268.41" fill="none" stroke="#ea2a8a" class="dl"/>
<circle cx="31.08" cy="356.30" r="1.9" fill="#e6187f"/>
<circle cx="35.73" cy="366.02" r="1.9" fill="#e6187f"/>
<circle cx="40.38" cy="433.72" r="1.9" fill="#e6187f"/>
<circle cx="45.03" cy="443.82" r="1.9" fill="#e6187f"/>
<circle cx="49.68" cy="443.07" r="1.9" fill="#e6187f"/>
<circle cx="54.33" cy="440.26" r="1.9" fill="#e6187f"/>
<circle cx="58.98" cy="441.57" r="1.9" fill="#e6187f"/>
<circle cx="63.63" cy="441.57" r="1.9" fill="#e6187f"/>
<circle cx="68.28" cy="441.57" r="1.9" fill="#e6187f"/>
<circle cx="72.93" cy="440.82" r="1.9" fill="#e6187f"/>
<circle cx="77.58" cy="442.32" r="1.9" fill="#e6187f"/>
<circle cx="82.23" cy="442.32" r="1.9" fill="#e6187f"/>
<circle cx="86.88" cy="442.69" r="1.9" fill="#e6187f"/>
<circle cx="91.53" cy="439.51" r="1.9" fill="#e6187f"/>
<circle cx="96.18" cy="420.44" r="1.9" fill="#e6187f"/>
<circle cx="100.83" cy="302.07" r="1.9" fill="#e6187f"/>
<circle cx="105.48" cy="270.84" r="1.9" fill="#e6187f"/>
<circle cx="110.13" cy="270.28" r="1.9" fill="#e6187f"/>
<circle cx="114.78" cy="269.91" r="1.9" fill="#e6187f"/>
<circle cx="119.43" cy="271.59" r="1.9" fill="#e6187f"/>
<circle cx="124.08" cy="271.59" r="1.9" fill="#e6187f"/>
<circle cx="128.73" cy="270.84" r="1.9" fill="#e6187f"/>
<circle cx="133.38" cy="271.59" r="1.9" fill="#e6187f"/>
<circle cx="138.03" cy="274.02" r="1.9" fill="#e6187f"/>
<circle cx="142.68" cy="274.02" r="1.9" fill="#e6187f"/>
<circle cx="147.33" cy="274.96" r="1.9" fill="#e6187f"/>
<circle cx="151.98" cy="279.07" r="1.9" fill="#e6187f"/>
<circle cx="156.63" cy="348.07" r="1.9" fill="#e6187f"/>
<circle cx="161.28" cy="439.14" r="1.9" fill="#e6187f"/>
<circle cx="165.93" cy="441.20" r="1.9" fill="#e6187f"/>
<circle cx="170.58" cy="440.82" r="1.9" fill="#e6187f"/>
<circle cx="175.23" cy="441.20" r="1.9" fill="#e6187f"/>
<circle cx="179.88" cy="441.38" r="1.9" fill="#e6187f"/>
<circle cx="184.53" cy="440.82" r="1.9" fill="#e6187f"/>
<circle cx="189.18" cy="441.38" r="1.9" fill="#e6187f"/>
<circle cx="193.83" cy="441.38" r="1.9" fill="#e6187f"/>
<circle cx="198.48" cy="440.82" r="1.9" fill="#e6187f"/>
<circle cx="203.13" cy="441.20" r="1.9" fill="#e6187f"/>
<circle cx="207.78" cy="439.51" r="1.9" fill="#e6187f"/>
<circle cx="212.43" cy="412.40" r="1.9" fill="#e6187f"/>
<circle cx="217.08" cy="297.96" r="1.9" fill="#e6187f"/>
<circle cx="221.73" cy="268.04" r="1.9" fill="#e6187f"/>
<circle cx="226.38" cy="271.59" r="1.9" fill="#e6187f"/>
<circle cx="231.03" cy="274.02" r="1.9" fill="#e6187f"/>
<circle cx="235.68" cy="278.13" r="1.9" fill="#e6187f"/>
<circle cx="240.33" cy="274.02" r="1.9" fill="#e6187f"/>
<circle cx="244.98" cy="272.71" r="1.9" fill="#e6187f"/>
<circle cx="249.63" cy="271.59" r="1.9" fill="#e6187f"/>
<circle cx="254.28" cy="270.84" r="1.9" fill="#e6187f"/>
<circle cx="258.93" cy="269.91" r="1.9" fill="#e6187f"/>
<circle cx="263.58" cy="268.41" r="1.9" fill="#e6187f"/>
<polyline points="31.08,356.30 31.66,359.99 32.24,362.03 32.83,362.41 33.41,366.37 33.99,372.30 34.57,379.24 35.15,381.62 35.73,383.04 36.31,392.71 36.89,402.60 37.48,416.04 38.06,430.56 38.64,438.92 39.22,444.93 39.80,447.35 40.38,447.37 40.96,447.98 41.54,445.45 42.12,448.31 42.71,449.43 43.29,449.43 43.87,449.43 44.45,448.07 45.03,447.93 45.61,448.29 46.19,447.14 46.78,446.58 47.36,443.99 47.94,444.39 48.52,443.26 49.10,443.44 49.68,444.19 50.26,443.46 50.84,441.59 51.42,441.64 52.01,440.61 52.59,437.76 53.17,434.12 53.75,434.61 54.33,437.27 54.91,437.89 55.49,440.08 56.08,441.39 56.66,441.21 57.24,441.31 57.82,440.18 58.40,441.68 58.98,442.32 59.56,446.42 60.14,443.71 60.73,442.87 61.31,443.52 61.89,446.35 62.47,447.57 63.05,449.05 63.63,446.06 64.21,445.58 64.79,443.49 65.38,445.40 65.96,444.17 66.54,445.39 67.12,448.38 67.70,449.43 68.28,447.93 68.86,447.00 69.44,447.32 70.03,447.24 70.61,445.40 71.19,444.59 71.77,446.71 72.35,449.43 72.93,446.06 73.51,446.27 74.09,443.04 74.68,442.09 75.26,441.11 75.84,441.24 76.42,441.22 77.00,443.13 77.58,443.25 78.16,445.51 78.74,445.34 79.33,444.61 79.91,443.24 80.49,441.98 81.07,444.09 81.65,447.14 82.23,446.06 82.81,445.88 83.39,445.87 83.97,447.42 84.56,446.75 85.14,445.67 85.72,445.71 86.30,447.99 86.88,447.00 87.46,445.49 88.04,442.93 88.62,443.63 89.21,442.60 89.79,441.03 90.37,438.66 90.95,439.06 91.53,441.38 92.11,439.19 92.69,435.83 93.28,432.34 93.86,430.83 94.44,419.99 95.02,406.67 95.60,379.76 96.18,354.43 96.76,323.76 97.34,296.21 97.93,285.45 98.51,274.47 99.09,270.78 99.67,265.18 100.25,264.57 100.83,265.61 101.41,264.34 101.99,264.50 102.58,266.54 103.16,267.17 103.74,269.00 104.32,267.57 104.90,265.45 105.48,264.67 106.06,263.17 106.64,263.63 107.23,268.41 107.81,267.50 108.39,267.46 108.97,266.46 109.55,270.68 110.13,268.41 110.71,270.05 111.29,266.76 111.88,266.69 112.46,268.26 113.04,269.68 113.62,268.39 114.20,266.16 114.78,266.91 115.36,266.41 115.94,267.69 116.53,266.78 117.11,264.90 117.69,264.61 118.27,266.29 118.85,266.15 119.43,266.54 120.01,264.47 120.59,263.34 121.18,263.46 121.76,265.57 122.34,265.28 122.92,266.40 123.50,268.16 124.08,269.16 124.66,268.79 125.24,268.58 125.83,268.46 126.41,270.02 126.99,272.51 127.57,271.89 128.15,269.06 128.73,268.04 129.31,267.49 129.89,268.17 130.48,266.65 131.06,265.37 131.64,266.34 132.22,268.43 132.80,267.47 133.38,267.48 133.96,267.79 134.54,269.40 135.12,270.14 135.71,269.46 136.29,271.44 136.87,270.19 137.45,270.67 138.03,270.28 138.61,272.41 139.19,273.40 139.78,272.35 140.36,271.17 140.94,270.03 141.52,271.67 142.10,271.58 142.68,271.59 143.26,271.93 143.84,272.75 144.43,270.65 145.01,271.20 145.59,272.70 146.17,273.39 146.75,275.63 147.33,274.96 147.91,281.79 148.49,283.24 149.07,282.46 149.66,280.44 150.24,282.63 150.82,289.69 151.40,295.09 151.98,302.07 152.56,320.46 153.14,338.93 153.73,356.86 154.31,373.24 154.89,386.90 155.47,401.27 156.05,412.53 156.63,422.12 157.21,431.83 157.79,439.13 158.38,442.73 158.96,445.59 159.54,447.26 160.12,446.20 160.70,445.72 161.28,447.93 161.86,446.23 162.44,445.42 163.03,443.63 163.61,442.19 164.19,439.72 164.77,436.97 165.35,435.19 165.93,438.02 166.51,438.45 167.09,436.77 167.68,436.67 168.26,440.97 168.84,446.32 169.42,446.47 170.00,446.89 170.58,445.50 171.16,446.46 171.74,446.68 172.33,446.85 172.91,444.23 173.49,445.39 174.07,445.82 174.65,445.42 175.23,444.19 175.81,445.53 176.39,445.68 176.98,445.98 177.56,445.21 178.14,444.90 178.72,445.13 179.30,446.82 179.88,446.06 180.46,447.04 181.04,446.08 181.62,449.43 182.21,449.43 182.79,449.43 183.37,448.79 183.95,446.68 184.53,446.81 185.11,448.70 185.69,446.95 186.28,444.60 186.86,443.56 187.44,446.09 188.02,448.07 188.60,447.74 189.18,444.19 189.76,441.23 190.34,442.57 190.93,446.00 191.51,444.95 192.09,445.62 192.67,446.01 193.25,449.43 193.83,446.81 194.41,449.01 194.99,444.95 195.58,445.02 196.16,444.75 196.74,445.51 197.32,444.70 197.90,446.44 198.48,444.19 199.06,448.97 199.64,445.91 200.23,444.23 200.81,444.30 201.39,444.48 201.97,444.81 202.55,444.90 203.13,443.25 203.71,443.02 204.29,441.86 204.88,440.76 205.46,441.07 206.04,440.77 206.62,439.12 207.20,439.25 207.78,439.51 208.36,435.42 208.94,426.89 209.53,420.27 210.11,412.74 210.69,388.37 211.27,362.26 211.85,340.95 212.43,321.33 213.01,308.30 213.59,291.72 214.18,282.52 214.76,274.57 215.34,269.60 215.92,266.65 216.50,267.00 217.08,266.54 217.66,267.33 218.24,266.09 218.83,265.78 219.41,265.27 219.99,264.49 220.57,264.43 221.15,268.01 221.73,265.23 222.31,268.37 222.89,267.53 223.48,268.92 224.06,269.53 224.64,270.57 225.22,270.67 225.80,269.89 226.38,268.97 226.96,270.49 227.54,271.20 228.13,272.87 228.71,272.96 229.29,272.52 229.87,271.84 230.45,273.66 231.03,272.15 231.61,274.13 232.19,271.24 232.78,270.73 233.36,271.75 233.94,274.36 234.52,272.44 235.10,271.88 235.68,272.15 236.26,274.68 236.84,274.68 237.43,272.32 238.01,270.34 238.59,267.58 239.17,269.09 239.75,269.78 240.33,267.48 240.91,265.98 241.49,263.17 242.08,263.17 242.66,264.68 243.24,268.59 243.82,269.33 244.40,266.15 244.98,266.54 245.56,265.20 246.14,266.51 246.73,266.04 247.31,264.65 247.89,264.66 248.47,268.25 249.05,271.45 249.63,266.54 250.21,265.21 250.79,264.73 251.38,267.47 251.96,266.65 252.54,265.14 253.12,264.33 253.70,266.02 254.28,265.23 254.86,266.50 255.44,265.29 256.02,263.36 256.61,264.80 257.19,268.08 257.77,269.30 258.35,266.55 258.93,264.67 259.51,267.67 260.09,267.86 260.68,266.59 261.26,266.43 261.84,266.10 262.42,264.54 263.00,263.17 263.58,264.67" fill="none" stroke="#2ea6e2" class="dl"/>
<path d="M31.08 354.00L33.27 358.03L28.90 358.03Z" fill="#2ea6e2"/>
<path d="M35.73 380.74L37.92 384.77L33.55 384.77Z" fill="#2ea6e2"/>
<path d="M40.38 445.07L42.57 449.09L38.20 449.09Z" fill="#2ea6e2"/>
<path d="M45.03 445.63L47.22 449.66L42.85 449.66Z" fill="#2ea6e2"/>
<path d="M49.68 441.89L51.87 445.92L47.50 445.92Z" fill="#2ea6e2"/>
<path d="M54.33 434.97L56.52 439.00L52.15 439.00Z" fill="#2ea6e2"/>
<path d="M58.98 440.02L61.17 444.05L56.80 444.05Z" fill="#2ea6e2"/>
<path d="M63.63 443.76L65.82 447.79L61.45 447.79Z" fill="#2ea6e2"/>
<path d="M68.28 445.63L70.47 449.66L66.10 449.66Z" fill="#2ea6e2"/>
<path d="M72.93 443.76L75.12 447.79L70.75 447.79Z" fill="#2ea6e2"/>
<path d="M77.58 440.95L79.77 444.98L75.40 444.98Z" fill="#2ea6e2"/>
<path d="M82.23 443.76L84.42 447.79L80.05 447.79Z" fill="#2ea6e2"/>
<path d="M86.88 444.69L89.07 448.72L84.70 448.72Z" fill="#2ea6e2"/>
<path d="M91.53 439.08L93.72 443.11L89.35 443.11Z" fill="#2ea6e2"/>
<path d="M96.18 352.13L98.37 356.16L94.00 356.16Z" fill="#2ea6e2"/>
<path d="M100.83 263.31L103.02 267.33L98.65 267.33Z" fill="#2ea6e2"/>
<path d="M105.48 262.37L107.67 266.40L103.30 266.40Z" fill="#2ea6e2"/>
<path d="M110.13 266.11L112.32 270.14L107.95 270.14Z" fill="#2ea6e2"/>
<path d="M114.78 264.61L116.97 268.64L112.60 268.64Z" fill="#2ea6e2"/>
<path d="M119.43 264.24L121.62 268.27L117.25 268.27Z" fill="#2ea6e2"/>
<path d="M124.08 266.86L126.27 270.88L121.90 270.88Z" fill="#2ea6e2"/>
<path d="M128.73 265.74L130.92 269.76L126.55 269.76Z" fill="#2ea6e2"/>
<path d="M133.38 265.18L135.57 269.20L131.20 269.20Z" fill="#2ea6e2"/>
<path d="M138.03 267.98L140.22 272.01L135.85 272.01Z" fill="#2ea6e2"/>
<path d="M142.68 269.29L144.87 273.31L140.50 273.31Z" fill="#2ea6e2"/>
<path d="M147.33 272.66L149.52 276.68L145.15 276.68Z" fill="#2ea6e2"/>
<path d="M151.98 299.77L154.17 303.80L149.80 303.80Z" fill="#2ea6e2"/>
<path d="M156.63 419.82L158.82 423.85L154.45 423.85Z" fill="#2ea6e2"/>
<path d="M161.28 445.63L163.47 449.66L159.10 449.66Z" fill="#2ea6e2"/>
<path d="M165.93 435.72L168.12 439.74L163.75 439.74Z" fill="#2ea6e2"/>
<path d="M170.58 443.20L172.77 447.22L168.40 447.22Z" fill="#2ea6e2"/>
<path d="M175.23 441.89L177.42 445.92L173.05 445.92Z" fill="#2ea6e2"/>
<path d="M179.88 443.76L182.07 447.79L177.70 447.79Z" fill="#2ea6e2"/>
<path d="M184.53 444.51L186.72 448.53L182.35 448.53Z" fill="#2ea6e2"/>
<path d="M189.18 441.89L191.37 445.92L187.00 445.92Z" fill="#2ea6e2"/>
<path d="M193.83 444.51L196.02 448.53L191.65 448.53Z" fill="#2ea6e2"/>
<path d="M198.48 441.89L200.67 445.92L196.30 445.92Z" fill="#2ea6e2"/>
<path d="M203.13 440.95L205.32 444.98L200.95 444.98Z" fill="#2ea6e2"/>
<path d="M207.78 437.21L209.97 441.24L205.60 441.24Z" fill="#2ea6e2"/>
<path d="M212.43 319.03L214.62 323.06L210.25 323.06Z" fill="#2ea6e2"/>
<path d="M217.08 264.24L219.27 268.27L214.90 268.27Z" fill="#2ea6e2"/>
<path d="M221.73 262.93L223.92 266.96L219.55 266.96Z" fill="#2ea6e2"/>
<path d="M226.38 266.67L228.57 270.70L224.20 270.70Z" fill="#2ea6e2"/>
<path d="M231.03 269.85L233.22 273.88L228.85 273.88Z" fill="#2ea6e2"/>
<path d="M235.68 269.85L237.87 273.88L233.50 273.88Z" fill="#2ea6e2"/>
<path d="M240.33 265.18L242.52 269.20L238.15 269.20Z" fill="#2ea6e2"/>
<path d="M244.98 264.24L247.17 268.27L242.80 268.27Z" fill="#2ea6e2"/>
<path d="M249.63 264.24L251.82 268.27L247.45 268.27Z" fill="#2ea6e2"/>
<path d="M254.28 262.93L256.47 266.96L252.10 266.96Z" fill="#2ea6e2"/>
<path d="M258.93 262.37L261.12 266.40L256.75 266.40Z" fill="#2ea6e2"/>
<path d="M263.58 262.37L265.77 266.40L261.40 266.40Z" fill="#2ea6e2"/>
</g>
<rect x="30.5" y="262.8" width="232.5" height="187.0" fill="none" stroke="#2e2e2e" stroke-width="1.1"/>
<line x1="30.50" y1="449.8" x2="30.50" y2="446.8" class="tk"/>
<text x="30.20" y="460.25" class="tl" text-anchor="middle">0</text>
<line x1="59.56" y1="449.8" x2="59.56" y2="448.2" class="tk"/>
<line x1="88.62" y1="449.8" x2="88.62" y2="446.8" class="tk"/>
<text x="88.33" y="460.25" class="tl" text-anchor="middle">100</text>
<line x1="117.69" y1="449.8" x2="117.69" y2="448.2" class="tk"/>
<line x1="146.75" y1="449.8" x2="146.75" y2="446.8" class="tk"/>
<text x="146.45" y="460.25" class="tl" text-anchor="middle">200</text>
<line x1="175.81" y1="449.8" x2="175.81" y2="448.2" class="tk"/>
<line x1="204.88" y1="449.8" x2="204.88" y2="446.8" class="tk"/>
<text x="204.57" y="460.25" class="tl" text-anchor="middle">300</text>
<line x1="233.94" y1="449.8" x2="233.94" y2="448.2" class="tk"/>
<line x1="263.00" y1="449.8" x2="263.00" y2="446.8" class="tk"/>
<text x="262.70" y="460.25" class="tl" text-anchor="middle">400</text>
<line x1="30.5" y1="449.80" x2="33.5" y2="449.80" class="tk"/>
<text x="26.50" y="452.60" class="tl" text-anchor="end">0.0</text>
<line x1="30.5" y1="431.10" x2="32.1" y2="431.10" class="tk"/>
<line x1="30.5" y1="412.40" x2="33.5" y2="412.40" class="tk"/>
<text x="26.50" y="415.20" class="tl" text-anchor="end">0.2</text>
<line x1="30.5" y1="393.70" x2="32.1" y2="393.70" class="tk"/>
<line x1="30.5" y1="375.00" x2="33.5" y2="375.00" class="tk"/>
<text x="26.50" y="377.80" class="tl" text-anchor="end">0.4</text>
<line x1="30.5" y1="356.30" x2="32.1" y2="356.30" class="tk"/>
<line x1="30.5" y1="337.60" x2="33.5" y2="337.60" class="tk"/>
<text x="26.50" y="340.40" class="tl" text-anchor="end">0.6</text>
<line x1="30.5" y1="318.90" x2="32.1" y2="318.90" class="tk"/>
<line x1="30.5" y1="300.20" x2="33.5" y2="300.20" class="tk"/>
<text x="26.50" y="303.00" class="tl" text-anchor="end">0.8</text>
<line x1="30.5" y1="281.50" x2="32.1" y2="281.50" class="tk"/>
<line x1="30.5" y1="262.80" x2="33.5" y2="262.80" class="tk"/>
<text x="26.50" y="265.60" class="tl" text-anchor="end">1.0</text>
<text x="146.75" y="475.10" class="al2" text-anchor="middle">Time(s)</text>
<text transform="translate(11.80,356.30) rotate(-90)" class="al" text-anchor="middle">Probability of CV model</text>
<text x="136.60" y="491.20" class="cap" text-anchor="middle">(<tspan font-weight="bold">c</tspan>)</text>
<rect x="70.3" y="249.15" width="166.6" height="9.9" fill="#fff" stroke="#858585" stroke-width="1.1"/>
<line x1="71.3" y1="254.3" x2="86.89999999999999" y2="254.3" stroke="#6f6cf2" class="dl"/>
<rect x="77.45" y="252.65" width="3.3" height="3.3" fill="#8683ee"/>
<text x="87.8" y="256.9" class="lg">CIMM</text>
<line x1="111.1" y1="254.3" x2="126.69999999999999" y2="254.3" stroke="#ea2a8a" class="dl"/>
<circle cx="118.90" cy="254.30" r="1.9" fill="#e6187f"/>
<text x="128.6" y="256.9" class="lg">ATPM-PIMM</text>
<line x1="174.8" y1="254.3" x2="190.4" y2="254.3" stroke="#2ea6e2" class="dl"/>
<path d="M182.60 252.00L184.79 256.03L180.42 256.03Z" fill="#2ea6e2"/>
<text x="192.3" y="256.9" class="lg">ATPFC-IMM</text>
</g>
<g>
<line x1="367.93" y1="262.8" x2="367.93" y2="449.8" class="gr"/>
<line x1="426.05" y1="262.8" x2="426.05" y2="449.8" class="gr"/>
<line x1="484.18" y1="262.8" x2="484.18" y2="449.8" class="gr"/>
<line x1="309.8" y1="412.40" x2="542.3" y2="412.40" class="gr"/>
<line x1="309.8" y1="375.00" x2="542.3" y2="375.00" class="gr"/>
<line x1="309.8" y1="337.60" x2="542.3" y2="337.60" class="gr"/>
<line x1="309.8" y1="300.20" x2="542.3" y2="300.20" class="gr"/>
<clipPath id="cld"><rect x="309.8" y="262.3" width="232.5" height="188.0"/></clipPath>
<g clip-path="url(#cld)">
<polyline points="310.38,356.30 310.96,355.78 311.54,353.03 312.12,351.14 312.71,349.76 313.29,347.59 313.87,344.69 314.45,341.93 315.03,339.47 315.61,330.34 316.19,322.16 316.78,314.49 317.36,307.16 317.94,301.12 318.52,294.61 319.10,287.91 319.68,282.44 320.26,281.41 320.84,281.07 321.43,280.50 322.01,279.62 322.59,280.22 323.17,280.49 323.75,279.61 324.33,278.88 324.91,278.91 325.49,279.90 326.07,280.30 326.66,280.43 327.24,281.33 327.82,282.95 328.40,283.25 328.98,283.00 329.56,282.01 330.14,281.61 330.73,281.36 331.31,281.50 331.89,282.81 332.47,283.40 333.05,283.08 333.63,283.37 334.21,283.11 334.79,283.09 335.38,282.61 335.96,282.81 336.54,283.26 337.12,283.59 337.70,283.25 338.28,284.49 338.86,283.92 339.44,285.19 340.03,285.66 340.61,285.73 341.19,285.96 341.77,285.20 342.35,284.79 342.93,284.49 343.51,283.48 344.09,282.43 344.68,283.10 345.26,283.94 345.84,284.38 346.42,284.25 347.00,283.56 347.58,282.81 348.16,282.53 348.74,282.23 349.33,282.02 349.91,282.68 350.49,282.71 351.07,282.36 351.65,281.67 352.23,281.50 352.81,282.54 353.39,282.75 353.98,282.44 354.56,282.42 355.14,281.70 355.72,281.84 356.30,281.66 356.88,282.06 357.46,282.02 358.04,282.37 358.62,282.28 359.21,282.72 359.79,283.25 360.37,282.85 360.95,281.40 361.53,283.00 362.11,281.27 362.69,282.18 363.28,282.19 363.86,282.49 364.44,282.63 365.02,282.82 365.60,282.98 366.18,283.00 366.76,283.00 367.34,283.88 367.93,285.08 368.51,284.85 369.09,284.06 369.67,284.38 370.25,285.64 370.83,285.24 371.41,287.43 371.99,288.52 372.58,290.54 373.16,292.88 373.74,298.81 374.32,304.30 374.90,309.97 375.48,316.28 376.06,329.04 376.64,342.01 377.23,355.00 377.81,368.28 378.39,380.38 378.97,393.02 379.55,405.49 380.13,418.01 380.71,421.21 381.29,424.19 381.88,427.50 382.46,431.62 383.04,432.60 383.62,432.95 384.20,433.03 384.78,433.53 385.36,432.23 385.94,432.56 386.53,432.71 387.11,431.80 387.69,430.50 388.27,429.51 388.85,428.76 389.43,428.30 390.01,428.40 390.59,427.84 391.18,427.12 391.76,427.48 392.34,428.29 392.92,429.11 393.50,429.01 394.08,428.67 394.66,428.73 395.24,428.71 395.83,428.49 396.41,428.44 396.99,427.96 397.57,427.70 398.15,427.13 398.73,427.17 399.31,426.60 399.89,427.02 400.48,426.63 401.06,426.31 401.64,426.03 402.22,426.47 402.80,426.17 403.38,425.86 403.96,425.59 404.54,425.44 405.12,426.32 405.71,426.93 406.29,426.61 406.87,426.05 407.45,426.11 408.03,426.43 408.61,426.36 409.19,426.41 409.78,425.78 410.36,425.14 410.94,425.15 411.52,424.60 412.10,424.01 412.68,425.12 413.26,424.93 413.84,425.70 414.43,426.27 415.01,426.23 415.59,425.65 416.17,424.80 416.75,423.82 417.33,424.74 417.91,423.19 418.49,424.01 419.08,424.74 419.66,424.95 420.24,424.50 420.82,423.70 421.40,423.74 421.98,424.74 422.56,424.97 423.14,424.76 423.73,425.24 424.31,425.84 424.89,425.99 425.47,424.94 426.05,424.34 426.63,424.74 427.21,424.55 427.79,424.68 428.38,424.82 428.96,425.21 429.54,425.38 430.12,424.90 430.70,424.26 431.28,423.62 431.86,414.01 432.44,405.19 433.03,396.11 433.61,387.40 434.19,373.18 434.77,359.46 435.35,345.51 435.93,331.43 436.51,321.83 437.09,311.25 437.68,300.85 438.26,290.48 438.84,287.09 439.42,284.52 440.00,281.52 440.58,277.76 441.16,278.96 441.74,279.90 442.33,281.21 442.91,283.54 443.49,284.57 444.07,285.51 444.65,286.21 445.23,286.36 445.81,287.48 446.39,287.95 446.98,287.60 447.56,286.44 448.14,286.31 448.72,285.81 449.30,285.72 449.88,286.36 450.46,287.85 451.04,287.99 451.62,287.45 452.21,287.80 452.79,287.87 453.37,288.07 453.95,287.95 454.53,286.36 455.11,287.23 455.69,285.98 456.28,285.01 456.86,284.50 457.44,284.90 458.02,284.70 458.60,284.26 459.18,284.68 459.76,285.20 460.34,286.15 460.93,286.21 461.51,285.72 462.09,285.67 462.67,285.92 463.25,285.80 463.83,285.43 464.41,285.56 464.99,285.09 465.58,284.56 466.16,284.32 466.74,284.01 467.32,283.67 467.90,284.17 468.48,283.37 469.06,284.38 469.64,283.78 470.23,283.77 470.81,282.88 471.39,282.48 471.97,282.09 472.55,282.71 473.13,282.81 473.71,283.04 474.29,282.65 474.88,283.08 475.46,283.94 476.04,284.15 476.62,283.11 477.20,282.34 477.78,282.25 478.36,283.85 478.94,283.60 479.53,282.76 480.11,281.98 480.69,282.17 481.27,282.01 481.85,282.67 482.43,283.93 483.01,284.35 483.59,285.17 484.18,285.45 484.76,284.61 485.34,284.37 485.92,285.59 486.50,286.20 487.08,286.36 487.66,287.38 488.24,290.05 488.83,292.46 489.41,294.99 489.99,300.64 490.57,306.30 491.15,310.86 491.73,316.28 492.31,330.58 492.89,344.74 493.48,359.28 494.06,373.68 494.64,386.67 495.22,398.68 495.80,412.32 496.38,424.74 496.96,427.99 497.54,429.72 498.12,431.19 498.71,431.85 499.29,431.42 499.87,432.60 500.45,433.73 501.03,433.53 501.61,433.55 502.19,432.28 502.78,431.08 503.36,430.94 503.94,430.75 504.52,428.89 505.10,427.20 505.68,427.73 506.26,426.90 506.84,426.09 507.43,425.46 508.01,423.95 508.59,423.62 509.17,423.85 509.75,424.52 510.33,422.31 510.91,422.03 511.49,420.57 512.08,420.68 512.66,420.79 513.24,421.32 513.82,421.09 514.40,421.19 514.98,421.19 515.56,422.04 516.14,422.28 516.73,421.56 517.31,421.14 517.89,421.28 518.47,422.47 519.05,423.29 519.63,423.62 520.21,424.44 520.79,424.50 521.38,424.55 521.96,425.26 522.54,425.88 523.12,426.09 523.70,426.98 524.28,426.99 524.86,427.91 525.44,427.72 526.03,428.40 526.61,427.84 527.19,427.86 527.77,427.56 528.35,428.19 528.93,428.30 529.51,428.59 530.09,427.80 530.68,427.03 531.26,427.62 531.84,427.61 532.42,427.80 533.00,427.53 533.58,428.67 534.16,427.67 534.74,428.50 535.33,428.91 535.91,428.89 536.49,428.89 537.07,429.22 537.65,428.54 538.23,429.79 538.81,429.12 539.39,431.01 539.98,432.48 540.56,433.27 541.14,433.21 541.72,432.53 542.30,432.66 542.88,433.53" fill="none" stroke="#6f6cf2" class="dl"/>
<rect x="308.73" y="354.65" width="3.3" height="3.3" fill="#8683ee"/>
<rect x="313.38" y="337.82" width="3.3" height="3.3" fill="#8683ee"/>
<rect x="318.03" y="280.79" width="3.3" height="3.3" fill="#8683ee"/>
<rect x="322.68" y="277.23" width="3.3" height="3.3" fill="#8683ee"/>
<rect x="327.33" y="281.35" width="3.3" height="3.3" fill="#8683ee"/>
<rect x="331.98" y="281.72" width="3.3" height="3.3" fill="#8683ee"/>
<rect x="336.63" y="282.84" width="3.3" height="3.3" fill="#8683ee"/>
<rect x="341.28" y="282.84" width="3.3" height="3.3" fill="#8683ee"/>
<rect x="345.93" y="281.16" width="3.3" height="3.3" fill="#8683ee"/>
<rect x="350.58" y="279.85" width="3.3" height="3.3" fill="#8683ee"/>
<rect x="355.23" y="280.41" width="3.3" height="3.3" fill="#8683ee"/>
<rect x="359.88" y="281.35" width="3.3" height="3.3" fill="#8683ee"/>
<rect x="364.53" y="281.35" width="3.3" height="3.3" fill="#8683ee"/>
<rect x="369.18" y="283.59" width="3.3" height="3.3" fill="#8683ee"/>
<rect x="373.83" y="314.63" width="3.3" height="3.3" fill="#8683ee"/>
<rect x="378.48" y="416.36" width="3.3" height="3.3" fill="#8683ee"/>
<rect x="383.13" y="431.88" width="3.3" height="3.3" fill="#8683ee"/>
<rect x="387.78" y="426.65" width="3.3" height="3.3" fill="#8683ee"/>
<rect x="392.43" y="427.02" width="3.3" height="3.3" fill="#8683ee"/>
<rect x="397.08" y="425.52" width="3.3" height="3.3" fill="#8683ee"/>
<rect x="401.73" y="424.21" width="3.3" height="3.3" fill="#8683ee"/>
<rect x="406.38" y="424.78" width="3.3" height="3.3" fill="#8683ee"/>
<rect x="411.03" y="423.47" width="3.3" height="3.3" fill="#8683ee"/>
<rect x="415.68" y="423.09" width="3.3" height="3.3" fill="#8683ee"/>
<rect x="420.33" y="423.09" width="3.3" height="3.3" fill="#8683ee"/>
<rect x="424.98" y="423.09" width="3.3" height="3.3" fill="#8683ee"/>
<rect x="429.63" y="421.97" width="3.3" height="3.3" fill="#8683ee"/>
<rect x="434.28" y="329.78" width="3.3" height="3.3" fill="#8683ee"/>
<rect x="438.93" y="276.11" width="3.3" height="3.3" fill="#8683ee"/>
<rect x="443.58" y="284.71" width="3.3" height="3.3" fill="#8683ee"/>
<rect x="448.23" y="284.71" width="3.3" height="3.3" fill="#8683ee"/>
<rect x="452.88" y="284.71" width="3.3" height="3.3" fill="#8683ee"/>
<rect x="457.53" y="283.03" width="3.3" height="3.3" fill="#8683ee"/>
<rect x="462.18" y="283.78" width="3.3" height="3.3" fill="#8683ee"/>
<rect x="466.83" y="281.72" width="3.3" height="3.3" fill="#8683ee"/>
<rect x="471.48" y="281.16" width="3.3" height="3.3" fill="#8683ee"/>
<rect x="476.13" y="280.60" width="3.3" height="3.3" fill="#8683ee"/>
<rect x="480.78" y="282.28" width="3.3" height="3.3" fill="#8683ee"/>
<rect x="485.43" y="284.71" width="3.3" height="3.3" fill="#8683ee"/>
<rect x="490.08" y="314.63" width="3.3" height="3.3" fill="#8683ee"/>
<rect x="494.73" y="423.09" width="3.3" height="3.3" fill="#8683ee"/>
<rect x="499.38" y="431.88" width="3.3" height="3.3" fill="#8683ee"/>
<rect x="504.03" y="426.08" width="3.3" height="3.3" fill="#8683ee"/>
<rect x="508.68" y="420.66" width="3.3" height="3.3" fill="#8683ee"/>
<rect x="513.33" y="419.54" width="3.3" height="3.3" fill="#8683ee"/>
<rect x="517.98" y="421.97" width="3.3" height="3.3" fill="#8683ee"/>
<rect x="522.63" y="425.34" width="3.3" height="3.3" fill="#8683ee"/>
<rect x="527.28" y="426.65" width="3.3" height="3.3" fill="#8683ee"/>
<rect x="531.93" y="427.02" width="3.3" height="3.3" fill="#8683ee"/>
<rect x="536.58" y="428.14" width="3.3" height="3.3" fill="#8683ee"/>
<rect x="541.23" y="431.88" width="3.3" height="3.3" fill="#8683ee"/>
<polyline points="310.38,356.30 310.96,356.40 311.54,355.48 312.12,354.99 312.71,355.57 313.29,353.74 313.87,351.10 314.45,348.12 315.03,346.58 315.61,337.60 316.19,329.79 316.78,322.16 317.36,314.36 317.94,305.85 318.52,296.75 319.10,287.83 319.68,278.88 320.26,276.93 320.84,275.37 321.43,273.72 322.01,270.97 322.59,269.61 323.17,268.95 323.75,268.42 324.33,268.78 324.91,268.30 325.49,269.75 326.07,270.04 326.66,269.89 327.24,269.98 327.82,269.85 328.40,269.29 328.98,269.53 329.56,269.91 330.14,269.73 330.73,269.76 331.31,270.57 331.89,272.12 332.47,273.28 333.05,273.20 333.63,272.34 334.21,273.19 334.79,272.51 335.38,271.71 335.96,271.43 336.54,271.81 337.12,271.44 337.70,271.76 338.28,271.03 338.86,271.48 339.44,271.33 340.03,271.48 340.61,271.35 341.19,271.38 341.77,271.34 342.35,271.06 342.93,271.03 343.51,270.01 344.09,269.93 344.68,270.91 345.26,271.39 345.84,271.26 346.42,270.31 347.00,270.28 347.58,271.03 348.16,271.95 348.74,271.97 349.33,271.34 349.91,270.89 350.49,270.82 351.07,270.59 351.65,270.64 352.23,271.78 352.81,271.64 353.39,271.98 353.98,271.60 354.56,270.63 355.14,270.11 355.72,269.80 356.30,270.32 356.88,270.28 357.46,271.13 358.04,270.71 358.62,269.73 359.21,269.63 359.79,270.53 360.37,270.68 360.95,270.06 361.53,270.28 362.11,270.47 362.69,270.73 363.28,270.47 363.86,270.17 364.44,269.90 365.02,270.38 365.60,270.35 366.18,269.91 366.76,269.79 367.34,270.73 367.93,270.97 368.51,271.86 369.09,271.59 369.67,272.36 370.25,273.07 370.83,273.09 371.41,274.46 371.99,275.40 372.58,276.49 373.16,277.24 373.74,280.64 374.32,284.11 374.90,288.16 375.48,292.16 376.06,305.13 376.64,317.40 377.23,329.29 377.81,340.32 378.39,357.11 378.97,375.02 379.55,393.12 380.13,410.53 380.71,416.58 381.29,422.25 381.88,427.84 382.46,433.66 383.04,436.97 383.62,439.54 384.20,440.65 384.78,441.76 385.36,442.00 385.94,442.78 386.53,442.52 387.11,441.89 387.69,441.62 388.27,442.10 388.85,443.06 389.43,442.32 390.01,443.68 390.59,442.63 391.18,441.92 391.76,442.20 392.34,442.59 392.92,442.92 393.50,443.15 394.08,442.69 394.66,443.16 395.24,442.30 395.83,440.94 396.41,440.36 396.99,440.21 397.57,439.89 398.15,440.18 398.73,441.01 399.31,441.19 399.89,440.56 400.48,439.87 401.06,439.60 401.64,440.67 402.22,440.77 402.80,440.67 403.38,441.01 403.96,441.56 404.54,441.42 405.12,441.46 405.71,441.24 406.29,441.43 406.87,441.96 407.45,442.18 408.03,441.76 408.61,440.95 409.19,441.70 409.78,442.48 410.36,442.63 410.94,441.86 411.52,440.72 412.10,440.42 412.68,441.01 413.26,440.59 413.84,440.04 414.43,439.85 415.01,440.35 415.59,439.76 416.17,439.29 416.75,438.38 417.33,438.58 417.91,437.93 418.49,438.93 419.08,440.47 419.66,440.80 420.24,440.07 420.82,439.27 421.40,438.75 421.98,438.58 422.56,437.89 423.14,438.61 423.73,439.08 424.31,439.57 424.89,438.46 425.47,438.27 426.05,438.36 426.63,437.65 427.21,437.48 427.79,436.32 428.38,435.64 428.96,435.54 429.54,435.83 430.12,435.13 430.70,433.89 431.28,433.53 431.86,428.29 432.44,423.30 433.03,417.56 433.61,412.44 434.19,401.09 434.77,389.51 435.35,377.45 435.93,364.53 436.51,349.97 437.09,333.68 437.68,316.88 438.26,300.03 438.84,293.24 439.42,286.89 440.00,280.75 440.58,273.46 441.16,273.39 441.74,272.51 442.33,272.72 442.91,272.54 443.49,272.57 444.07,271.69 444.65,271.34 445.23,271.40 445.81,271.63 446.39,272.19 446.98,272.27 447.56,271.30 448.14,270.90 448.72,271.25 449.30,272.38 449.88,271.78 450.46,271.31 451.04,270.67 451.62,271.00 452.21,270.63 452.79,270.53 453.37,271.18 453.95,271.25 454.53,271.40 455.11,271.26 455.69,272.24 456.28,272.00 456.86,272.29 457.44,272.44 458.02,272.06 458.60,271.40 459.18,271.22 459.76,271.42 460.34,270.93 460.93,271.43 461.51,271.21 462.09,271.98 462.67,272.23 463.25,272.63 463.83,271.78 464.41,272.28 464.99,271.53 465.58,271.25 466.16,271.20 466.74,271.98 467.32,272.07 467.90,273.21 468.48,271.22 469.06,272.89 469.64,271.70 470.23,272.14 470.81,271.30 471.39,271.42 471.97,271.06 472.55,270.69 473.13,271.22 473.71,269.89 474.29,270.95 474.88,271.44 475.46,271.84 476.04,271.93 476.62,271.89 477.20,270.89 477.78,271.78 478.36,271.56 478.94,272.19 479.53,271.12 480.11,270.06 480.69,270.83 481.27,271.60 481.85,271.52 482.43,271.40 483.01,271.23 483.59,271.64 484.18,271.68 484.76,271.08 485.34,271.38 485.92,272.43 486.50,273.26 487.08,273.09 487.66,275.15 488.24,276.81 488.83,278.19 489.41,279.78 489.99,285.22 490.57,290.59 491.15,295.45 491.73,300.20 492.31,312.65 492.89,325.63 493.48,338.34 494.06,351.10 494.64,366.41 495.22,382.24 495.80,398.78 496.38,414.64 496.96,420.56 497.54,426.07 498.12,431.84 498.71,436.07 499.29,438.13 499.87,440.16 500.45,442.34 501.03,444.56 501.61,443.83 502.19,443.03 502.78,441.98 503.36,441.84 503.94,442.09 504.52,442.29 505.10,442.01 505.68,441.01 506.26,440.74 506.84,440.10 507.43,440.54 508.01,440.57 508.59,439.60 509.17,437.94 509.75,438.24 510.33,438.58 510.91,437.83 511.49,437.00 512.08,436.68 512.66,436.53 513.24,436.73 513.82,436.39 514.40,435.59 514.98,434.47 515.56,434.60 516.14,434.78 516.73,435.85 517.31,436.51 517.89,437.14 518.47,437.21 519.05,437.36 519.63,438.58 520.21,438.19 520.79,439.17 521.38,439.97 521.96,439.38 522.54,439.07 523.12,439.32 523.70,439.41 524.28,439.89 524.86,439.29 525.44,440.44 526.03,440.97 526.61,441.02 527.19,441.06 527.77,441.13 528.35,441.02 528.93,441.01 529.51,440.56 530.09,440.62 530.68,441.84 531.26,442.44 531.84,442.43 532.42,441.58 533.00,441.51 533.58,441.76 534.16,441.90 534.74,442.15 535.33,442.58 535.91,442.35 536.49,442.43 537.07,442.69 537.65,442.71 538.23,442.69 538.81,442.64 539.39,443.13 539.98,443.01 540.56,442.42 541.14,442.98 541.72,443.37 542.30,443.52 542.88,444.19" fill="none" stroke="#ea2a8a" class="dl"/>
<circle cx="310.38" cy="356.30" r="1.9" fill="#e6187f"/>
<circle cx="315.03" cy="346.58" r="1.9" fill="#e6187f"/>
<circle cx="319.68" cy="278.88" r="1.9" fill="#e6187f"/>
<circle cx="324.33" cy="268.78" r="1.9" fill="#e6187f"/>
<circle cx="328.98" cy="269.53" r="1.9" fill="#e6187f"/>
<circle cx="333.63" cy="272.34" r="1.9" fill="#e6187f"/>
<circle cx="338.28" cy="271.03" r="1.9" fill="#e6187f"/>
<circle cx="342.93" cy="271.03" r="1.9" fill="#e6187f"/>
<circle cx="347.58" cy="271.03" r="1.9" fill="#e6187f"/>
<circle cx="352.23" cy="271.78" r="1.9" fill="#e6187f"/>
<circle cx="356.88" cy="270.28" r="1.9" fill="#e6187f"/>
<circle cx="361.53" cy="270.28" r="1.9" fill="#e6187f"/>
<circle cx="366.18" cy="269.91" r="1.9" fill="#e6187f"/>
<circle cx="370.83" cy="273.09" r="1.9" fill="#e6187f"/>
<circle cx="375.48" cy="292.16" r="1.9" fill="#e6187f"/>
<circle cx="380.13" cy="410.53" r="1.9" fill="#e6187f"/>
<circle cx="384.78" cy="441.76" r="1.9" fill="#e6187f"/>
<circle cx="389.43" cy="442.32" r="1.9" fill="#e6187f"/>
<circle cx="394.08" cy="442.69" r="1.9" fill="#e6187f"/>
<circle cx="398.73" cy="441.01" r="1.9" fill="#e6187f"/>
<circle cx="403.38" cy="441.01" r="1.9" fill="#e6187f"/>
<circle cx="408.03" cy="441.76" r="1.9" fill="#e6187f"/>
<circle cx="412.68" cy="441.01" r="1.9" fill="#e6187f"/>
<circle cx="417.33" cy="438.58" r="1.9" fill="#e6187f"/>
<circle cx="421.98" cy="438.58" r="1.9" fill="#e6187f"/>
<circle cx="426.63" cy="437.65" r="1.9" fill="#e6187f"/>
<circle cx="431.28" cy="433.53" r="1.9" fill="#e6187f"/>
<circle cx="435.93" cy="364.53" r="1.9" fill="#e6187f"/>
<circle cx="440.58" cy="273.46" r="1.9" fill="#e6187f"/>
<circle cx="445.23" cy="271.40" r="1.9" fill="#e6187f"/>
<circle cx="449.88" cy="271.78" r="1.9" fill="#e6187f"/>
<circle cx="454.53" cy="271.40" r="1.9" fill="#e6187f"/>
<circle cx="459.18" cy="271.22" r="1.9" fill="#e6187f"/>
<circle cx="463.83" cy="271.78" r="1.9" fill="#e6187f"/>
<circle cx="468.48" cy="271.22" r="1.9" fill="#e6187f"/>
<circle cx="473.13" cy="271.22" r="1.9" fill="#e6187f"/>
<circle cx="477.78" cy="271.78" r="1.9" fill="#e6187f"/>
<circle cx="482.43" cy="271.40" r="1.9" fill="#e6187f"/>
<circle cx="487.08" cy="273.09" r="1.9" fill="#e6187f"/>
<circle cx="491.73" cy="300.20" r="1.9" fill="#e6187f"/>
<circle cx="496.38" cy="414.64" r="1.9" fill="#e6187f"/>
<circle cx="501.03" cy="444.56" r="1.9" fill="#e6187f"/>
<circle cx="505.68" cy="441.01" r="1.9" fill="#e6187f"/>
<circle cx="510.33" cy="438.58" r="1.9" fill="#e6187f"/>
<circle cx="514.98" cy="434.47" r="1.9" fill="#e6187f"/>
<circle cx="519.63" cy="438.58" r="1.9" fill="#e6187f"/>
<circle cx="524.28" cy="439.89" r="1.9" fill="#e6187f"/>
<circle cx="528.93" cy="441.01" r="1.9" fill="#e6187f"/>
<circle cx="533.58" cy="441.76" r="1.9" fill="#e6187f"/>
<circle cx="538.23" cy="442.69" r="1.9" fill="#e6187f"/>
<circle cx="542.88" cy="444.19" r="1.9" fill="#e6187f"/>
<polyline points="310.38,356.30 310.96,352.61 311.54,350.57 312.12,350.19 312.71,346.23 313.29,340.30 313.87,333.36 314.45,330.98 315.03,329.56 315.61,319.89 316.19,310.00 316.78,296.56 317.36,282.04 317.94,273.68 318.52,267.67 319.10,265.25 319.68,265.23 320.26,264.62 320.84,267.15 321.43,264.29 322.01,263.17 322.59,263.17 323.17,263.17 323.75,264.53 324.33,264.67 324.91,264.31 325.49,265.46 326.07,266.02 326.66,268.61 327.24,268.21 327.82,269.34 328.40,269.16 328.98,268.41 329.56,269.14 330.14,271.01 330.73,270.96 331.31,271.99 331.89,274.84 332.47,278.48 333.05,277.99 333.63,275.33 334.21,274.71 334.79,272.52 335.38,271.21 335.96,271.39 336.54,271.29 337.12,272.42 337.70,270.92 338.28,270.28 338.86,266.18 339.44,268.89 340.03,269.73 340.61,269.08 341.19,266.25 341.77,265.03 342.35,263.55 342.93,266.54 343.51,267.02 344.09,269.11 344.68,267.20 345.26,268.43 345.84,267.21 346.42,264.22 347.00,263.17 347.58,264.67 348.16,265.60 348.74,265.28 349.33,265.36 349.91,267.20 350.49,268.01 351.07,265.89 351.65,263.17 352.23,266.54 352.81,266.33 353.39,269.56 353.98,270.51 354.56,271.49 355.14,271.36 355.72,271.38 356.30,269.47 356.88,269.35 357.46,267.09 358.04,267.26 358.62,267.99 359.21,269.36 359.79,270.62 360.37,268.51 360.95,265.46 361.53,266.54 362.11,266.72 362.69,266.73 363.28,265.18 363.86,265.85 364.44,266.93 365.02,266.89 365.60,264.61 366.18,265.61 366.76,267.11 367.34,269.67 367.93,268.97 368.51,270.00 369.09,271.57 369.67,273.94 370.25,273.54 370.83,271.22 371.41,273.41 371.99,276.77 372.58,280.26 373.16,281.77 373.74,292.61 374.32,305.93 374.90,332.84 375.48,358.17 376.06,388.84 376.64,416.39 377.23,427.15 377.81,438.13 378.39,441.82 378.97,447.42 379.55,448.03 380.13,447.00 380.71,448.26 381.29,448.10 381.88,446.06 382.46,445.43 383.04,443.60 383.62,445.03 384.20,447.15 384.78,447.93 385.36,449.43 385.94,448.97 386.53,444.19 387.11,445.10 387.69,445.14 388.27,446.14 388.85,441.92 389.43,444.19 390.01,442.55 390.59,445.84 391.18,445.91 391.76,444.34 392.34,442.92 392.92,444.21 393.50,446.44 394.08,445.69 394.66,446.19 395.24,444.91 395.83,445.82 396.41,447.70 396.99,447.99 397.57,446.31 398.15,446.45 398.73,446.06 399.31,448.13 399.89,449.26 400.48,449.14 401.06,447.03 401.64,447.32 402.22,446.20 402.80,444.44 403.38,443.44 403.96,443.81 404.54,444.02 405.12,444.14 405.71,442.58 406.29,440.09 406.87,440.71 407.45,443.54 408.03,444.56 408.61,445.11 409.19,444.43 409.78,445.95 410.36,447.23 410.94,446.26 411.52,444.17 412.10,445.13 412.68,445.12 413.26,444.81 413.84,443.20 414.43,442.46 415.01,443.14 415.59,441.16 416.17,442.41 416.75,441.93 417.33,442.32 417.91,440.19 418.49,439.20 419.08,440.25 419.66,441.43 420.24,442.57 420.82,440.93 421.40,441.02 421.98,441.01 422.56,440.67 423.14,439.85 423.73,441.95 424.31,441.40 424.89,439.90 425.47,439.21 426.05,436.97 426.63,437.65 427.21,430.81 427.79,429.36 428.38,430.14 428.96,432.16 429.54,429.97 430.12,422.91 430.70,417.51 431.28,410.53 431.86,392.14 432.44,373.67 433.03,355.74 433.61,339.36 434.19,325.70 434.77,311.33 435.35,300.07 435.93,290.48 436.51,280.77 437.09,273.47 437.68,269.87 438.26,267.01 438.84,265.34 439.42,266.40 440.00,266.88 440.58,264.67 441.16,266.37 441.74,267.18 442.33,268.97 442.91,270.41 443.49,272.88 444.07,275.63 444.65,277.41 445.23,274.58 445.81,274.15 446.39,275.83 446.98,275.93 447.56,271.63 448.14,266.28 448.72,266.13 449.30,265.71 449.88,267.10 450.46,266.14 451.04,265.92 451.62,265.75 452.21,268.37 452.79,267.21 453.37,266.78 453.95,267.18 454.53,268.41 455.11,267.07 455.69,266.92 456.28,266.62 456.86,267.39 457.44,267.70 458.02,267.47 458.60,265.78 459.18,266.54 459.76,265.56 460.34,266.52 460.93,263.17 461.51,263.17 462.09,263.17 462.67,263.81 463.25,265.92 463.83,265.79 464.41,263.90 464.99,265.65 465.58,268.00 466.16,269.04 466.74,266.51 467.32,264.53 467.90,264.86 468.48,268.41 469.06,271.37 469.64,270.03 470.23,266.60 470.81,267.65 471.39,266.98 471.97,266.59 472.55,263.17 473.13,265.79 473.71,263.59 474.29,267.65 474.88,267.58 475.46,267.85 476.04,267.09 476.62,267.90 477.20,266.16 477.78,268.41 478.36,263.63 478.94,266.69 479.53,268.37 480.11,268.30 480.69,268.12 481.27,267.79 481.85,267.70 482.43,269.35 483.01,269.58 483.59,270.74 484.18,271.84 484.76,271.53 485.34,271.83 485.92,273.48 486.50,273.35 487.08,273.09 487.66,277.18 488.24,285.71 488.83,292.33 489.41,299.86 489.99,324.23 490.57,350.34 491.15,371.65 491.73,391.27 492.31,404.30 492.89,420.88 493.48,430.08 494.06,438.03 494.64,443.00 495.22,445.95 495.80,445.60 496.38,446.06 496.96,445.27 497.54,446.51 498.12,446.82 498.71,447.33 499.29,448.11 499.87,448.17 500.45,444.59 501.03,447.37 501.61,444.23 502.19,445.07 502.78,443.68 503.36,443.07 503.94,442.03 504.52,441.93 505.10,442.71 505.68,443.63 506.26,442.11 506.84,441.40 507.43,439.73 508.01,439.64 508.59,440.08 509.17,440.76 509.75,438.94 510.33,440.45 510.91,438.47 511.49,441.36 512.08,441.87 512.66,440.85 513.24,438.24 513.82,440.16 514.40,440.72 514.98,440.45 515.56,437.92 516.14,437.92 516.73,440.28 517.31,442.26 517.89,445.02 518.47,443.51 519.05,442.82 519.63,445.12 520.21,446.62 520.79,449.43 521.38,449.43 521.96,447.92 522.54,444.01 523.12,443.27 523.70,446.45 524.28,446.06 524.86,447.40 525.44,446.09 526.03,446.56 526.61,447.95 527.19,447.94 527.77,444.35 528.35,441.15 528.93,446.06 529.51,447.39 530.09,447.87 530.68,445.13 531.26,445.95 531.84,447.46 532.42,448.27 533.00,446.58 533.58,447.37 534.16,446.10 534.74,447.31 535.33,449.24 535.91,447.80 536.49,444.52 537.07,443.30 537.65,446.05 538.23,447.93 538.81,444.93 539.39,444.74 539.98,446.01 540.56,446.17 541.14,446.50 541.72,448.06 542.30,449.43 542.88,447.93" fill="none" stroke="#2ea6e2" class="dl"/>
<path d="M310.38 354.00L312.57 358.03L308.20 358.03Z" fill="#2ea6e2"/>
<path d="M315.03 327.26L317.22 331.28L312.85 331.28Z" fill="#2ea6e2"/>
<path d="M319.68 262.93L321.87 266.96L317.50 266.96Z" fill="#2ea6e2"/>
<path d="M324.33 262.37L326.52 266.40L322.15 266.40Z" fill="#2ea6e2"/>
<path d="M328.98 266.11L331.17 270.14L326.80 270.14Z" fill="#2ea6e2"/>
<path d="M333.63 273.03L335.82 277.05L331.45 277.05Z" fill="#2ea6e2"/>
<path d="M338.28 267.98L340.47 272.01L336.10 272.01Z" fill="#2ea6e2"/>
<path d="M342.93 264.24L345.12 268.27L340.75 268.27Z" fill="#2ea6e2"/>
<path d="M347.58 262.37L349.77 266.40L345.40 266.40Z" fill="#2ea6e2"/>
<path d="M352.23 264.24L354.42 268.27L350.05 268.27Z" fill="#2ea6e2"/>
<path d="M356.88 267.05L359.07 271.07L354.70 271.07Z" fill="#2ea6e2"/>
<path d="M361.53 264.24L363.72 268.27L359.35 268.27Z" fill="#2ea6e2"/>
<path d="M366.18 263.31L368.37 267.33L364.00 267.33Z" fill="#2ea6e2"/>
<path d="M370.83 268.92L373.02 272.94L368.65 272.94Z" fill="#2ea6e2"/>
<path d="M375.48 355.87L377.67 359.90L373.30 359.90Z" fill="#2ea6e2"/>
<path d="M380.13 444.69L382.32 448.72L377.95 448.72Z" fill="#2ea6e2"/>
<path d="M384.78 445.63L386.97 449.66L382.60 449.66Z" fill="#2ea6e2"/>
<path d="M389.43 441.89L391.62 445.92L387.25 445.92Z" fill="#2ea6e2"/>
<path d="M394.08 443.39L396.27 447.41L391.90 447.41Z" fill="#2ea6e2"/>
<path d="M398.73 443.76L400.92 447.79L396.55 447.79Z" fill="#2ea6e2"/>
<path d="M403.38 441.14L405.57 445.17L401.20 445.17Z" fill="#2ea6e2"/>
<path d="M408.03 442.26L410.22 446.29L405.85 446.29Z" fill="#2ea6e2"/>
<path d="M412.68 442.82L414.87 446.85L410.50 446.85Z" fill="#2ea6e2"/>
<path d="M417.33 440.02L419.52 444.05L415.15 444.05Z" fill="#2ea6e2"/>
<path d="M421.98 438.71L424.17 442.74L419.80 442.74Z" fill="#2ea6e2"/>
<path d="M426.63 435.35L428.82 439.37L424.45 439.37Z" fill="#2ea6e2"/>
<path d="M431.28 408.23L433.47 412.26L429.10 412.26Z" fill="#2ea6e2"/>
<path d="M435.93 288.18L438.12 292.20L433.75 292.20Z" fill="#2ea6e2"/>
<path d="M440.58 262.37L442.77 266.40L438.40 266.40Z" fill="#2ea6e2"/>
<path d="M445.23 272.28L447.42 276.31L443.05 276.31Z" fill="#2ea6e2"/>
<path d="M449.88 264.80L452.07 268.83L447.70 268.83Z" fill="#2ea6e2"/>
<path d="M454.53 266.11L456.72 270.14L452.35 270.14Z" fill="#2ea6e2"/>
<path d="M459.18 264.24L461.37 268.27L457.00 268.27Z" fill="#2ea6e2"/>
<path d="M463.83 263.49L466.02 267.52L461.65 267.52Z" fill="#2ea6e2"/>
<path d="M468.48 266.11L470.67 270.14L466.30 270.14Z" fill="#2ea6e2"/>
<path d="M473.13 263.49L475.32 267.52L470.95 267.52Z" fill="#2ea6e2"/>
<path d="M477.78 266.11L479.97 270.14L475.60 270.14Z" fill="#2ea6e2"/>
<path d="M482.43 267.05L484.62 271.07L480.25 271.07Z" fill="#2ea6e2"/>
<path d="M487.08 270.79L489.27 274.81L484.90 274.81Z" fill="#2ea6e2"/>
<path d="M491.73 388.97L493.92 392.99L489.55 392.99Z" fill="#2ea6e2"/>
<path d="M496.38 443.76L498.57 447.79L494.20 447.79Z" fill="#2ea6e2"/>
<path d="M501.03 445.07L503.22 449.09L498.85 449.09Z" fill="#2ea6e2"/>
<path d="M505.68 441.33L507.87 445.35L503.50 445.35Z" fill="#2ea6e2"/>
<path d="M510.33 438.15L512.52 442.18L508.15 442.18Z" fill="#2ea6e2"/>
<path d="M514.98 438.15L517.17 442.18L512.80 442.18Z" fill="#2ea6e2"/>
<path d="M519.63 442.82L521.82 446.85L517.45 446.85Z" fill="#2ea6e2"/>
<path d="M524.28 443.76L526.47 447.79L522.10 447.79Z" fill="#2ea6e2"/>
<path d="M528.93 443.76L531.12 447.79L526.75 447.79Z" fill="#2ea6e2"/>
<path d="M533.58 445.07L535.77 449.09L531.40 449.09Z" fill="#2ea6e2"/>
<path d="M538.23 445.63L540.42 449.66L536.05 449.66Z" fill="#2ea6e2"/>
<path d="M542.88 445.63L545.07 449.66L540.70 449.66Z" fill="#2ea6e2"/>
</g>
<rect x="309.8" y="262.8" width="232.5" height="187.0" fill="none" stroke="#2e2e2e" stroke-width="1.1"/>
<line x1="309.80" y1="449.8" x2="309.80" y2="446.8" class="tk"/>
<text x="309.50" y="460.25" class="tl" text-anchor="middle">0</text>
<line x1="338.86" y1="449.8" x2="338.86" y2="448.2" class="tk"/>
<line x1="367.93" y1="449.8" x2="367.93" y2="446.8" class="tk"/>
<text x="367.62" y="460.25" class="tl" text-anchor="middle">100</text>
<line x1="396.99" y1="449.8" x2="396.99" y2="448.2" class="tk"/>
<line x1="426.05" y1="449.8" x2="426.05" y2="446.8" class="tk"/>
<text x="425.75" y="460.25" class="tl" text-anchor="middle">200</text>
<line x1="455.11" y1="449.8" x2="455.11" y2="448.2" class="tk"/>
<line x1="484.18" y1="449.8" x2="484.18" y2="446.8" class="tk"/>
<text x="483.88" y="460.25" class="tl" text-anchor="middle">300</text>
<line x1="513.24" y1="449.8" x2="513.24" y2="448.2" class="tk"/>
<line x1="542.30" y1="449.8" x2="542.30" y2="446.8" class="tk"/>
<text x="542.00" y="460.25" class="tl" text-anchor="middle">400</text>
<line x1="309.8" y1="449.80" x2="312.8" y2="449.80" class="tk"/>
<text x="305.80" y="452.60" class="tl" text-anchor="end">0.0</text>
<line x1="309.8" y1="431.10" x2="311.40000000000003" y2="431.10" class="tk"/>
<line x1="309.8" y1="412.40" x2="312.8" y2="412.40" class="tk"/>
<text x="305.80" y="415.20" class="tl" text-anchor="end">0.2</text>
<line x1="309.8" y1="393.70" x2="311.40000000000003" y2="393.70" class="tk"/>
<line x1="309.8" y1="375.00" x2="312.8" y2="375.00" class="tk"/>
<text x="305.80" y="377.80" class="tl" text-anchor="end">0.4</text>
<line x1="309.8" y1="356.30" x2="311.40000000000003" y2="356.30" class="tk"/>
<line x1="309.8" y1="337.60" x2="312.8" y2="337.60" class="tk"/>
<text x="305.80" y="340.40" class="tl" text-anchor="end">0.6</text>
<line x1="309.8" y1="318.90" x2="311.40000000000003" y2="318.90" class="tk"/>
<line x1="309.8" y1="300.20" x2="312.8" y2="300.20" class="tk"/>
<text x="305.80" y="303.00" class="tl" text-anchor="end">0.8</text>
<line x1="309.8" y1="281.50" x2="311.40000000000003" y2="281.50" class="tk"/>
<line x1="309.8" y1="262.80" x2="312.8" y2="262.80" class="tk"/>
<text x="305.80" y="265.60" class="tl" text-anchor="end">1.0</text>
<text x="426.05" y="475.10" class="al2" text-anchor="middle">Time(s)</text>
<text transform="translate(291.10,356.30) rotate(-90)" class="al" text-anchor="middle">Probability of CT model</text>
<text x="416.20" y="491.20" class="cap" text-anchor="middle">(<tspan font-weight="bold">d</tspan>)</text>
<rect x="349.6" y="249.15" width="166.6" height="9.9" fill="#fff" stroke="#858585" stroke-width="1.1"/>
<line x1="350.6" y1="254.3" x2="366.20000000000005" y2="254.3" stroke="#6f6cf2" class="dl"/>
<rect x="356.75" y="252.65" width="3.3" height="3.3" fill="#8683ee"/>
<text x="367.1" y="256.9" class="lg">CIMM</text>
<line x1="390.40000000000003" y1="254.3" x2="406.00000000000006" y2="254.3" stroke="#ea2a8a" class="dl"/>
<circle cx="398.20" cy="254.30" r="1.9" fill="#e6187f"/>
<text x="407.90000000000003" y="256.9" class="lg">ATPM-PIMM</text>
<line x1="454.1" y1="254.3" x2="469.70000000000005" y2="254.3" stroke="#2ea6e2" class="dl"/>
<path d="M461.90 252.00L464.09 256.03L459.72 256.03Z" fill="#2ea6e2"/>
<text x="471.6" y="256.9" class="lg">ATPFC-IMM</text>
</g>
</svg>
</body></html>
